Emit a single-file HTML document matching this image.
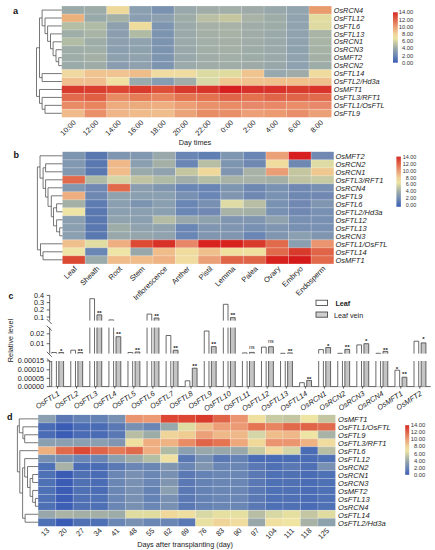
<!DOCTYPE html><html><head><meta charset="utf-8"><style>html,body{margin:0;padding:0;background:#fff;}svg{display:block;}</style></head><body>
<svg width="435" height="550" viewBox="0 0 435 550" font-family='"Liberation Sans", sans-serif'>
<rect width="435" height="550" fill="#fff"/>
<text x="13.1" y="13.8" font-size="9.2" font-weight="bold" fill="#111">a</text>
<rect x="61.80" y="6.10" width="22.52" height="7.99" fill="#9aaaa8"/>
<rect x="84.27" y="6.10" width="22.52" height="7.99" fill="#9caba8"/>
<rect x="106.74" y="6.10" width="22.52" height="7.99" fill="#eed89a"/>
<rect x="129.21" y="6.10" width="22.52" height="7.99" fill="#8a9fb0"/>
<rect x="151.68" y="6.10" width="22.52" height="7.99" fill="#7a92b0"/>
<rect x="174.15" y="6.10" width="22.52" height="7.99" fill="#98a8ab"/>
<rect x="196.62" y="6.10" width="22.52" height="7.99" fill="#a0aca8"/>
<rect x="219.09" y="6.10" width="22.52" height="7.99" fill="#a2aea8"/>
<rect x="241.56" y="6.10" width="22.52" height="7.99" fill="#9eaaa8"/>
<rect x="264.03" y="6.10" width="22.52" height="7.99" fill="#98a8aa"/>
<rect x="286.50" y="6.10" width="22.52" height="7.99" fill="#92a4ae"/>
<rect x="308.97" y="6.10" width="22.52" height="7.99" fill="#e89c6e"/>
<rect x="61.80" y="14.04" width="22.52" height="7.99" fill="#ebb07c"/>
<rect x="84.27" y="14.04" width="22.52" height="7.99" fill="#98a9aa"/>
<rect x="106.74" y="14.04" width="22.52" height="7.99" fill="#a4b0a6"/>
<rect x="129.21" y="14.04" width="22.52" height="7.99" fill="#899eb0"/>
<rect x="151.68" y="14.04" width="22.52" height="7.99" fill="#8ca0b0"/>
<rect x="174.15" y="14.04" width="22.52" height="7.99" fill="#9eaca8"/>
<rect x="196.62" y="14.04" width="22.52" height="7.99" fill="#b8bfa4"/>
<rect x="219.09" y="14.04" width="22.52" height="7.99" fill="#c4c6a0"/>
<rect x="241.56" y="14.04" width="22.52" height="7.99" fill="#a8b2a6"/>
<rect x="264.03" y="14.04" width="22.52" height="7.99" fill="#9eaca8"/>
<rect x="286.50" y="14.04" width="22.52" height="7.99" fill="#90a3ae"/>
<rect x="308.97" y="14.04" width="22.52" height="7.99" fill="#e2dca0"/>
<rect x="61.80" y="21.98" width="22.52" height="7.99" fill="#b4bea4"/>
<rect x="84.27" y="21.98" width="22.52" height="7.99" fill="#b0bba5"/>
<rect x="106.74" y="21.98" width="22.52" height="7.99" fill="#8ca0ae"/>
<rect x="129.21" y="21.98" width="22.52" height="7.99" fill="#eedc9c"/>
<rect x="151.68" y="21.98" width="22.52" height="7.99" fill="#7d95b0"/>
<rect x="174.15" y="21.98" width="22.52" height="7.99" fill="#9aaaaa"/>
<rect x="196.62" y="21.98" width="22.52" height="7.99" fill="#a6b0a6"/>
<rect x="219.09" y="21.98" width="22.52" height="7.99" fill="#a8b2a6"/>
<rect x="241.56" y="21.98" width="22.52" height="7.99" fill="#a0aca8"/>
<rect x="264.03" y="21.98" width="22.52" height="7.99" fill="#9eaca8"/>
<rect x="286.50" y="21.98" width="22.52" height="7.99" fill="#90a3ae"/>
<rect x="308.97" y="21.98" width="22.52" height="7.99" fill="#dedaa2"/>
<rect x="61.80" y="29.92" width="22.52" height="7.99" fill="#a0aea8"/>
<rect x="84.27" y="29.92" width="22.52" height="7.99" fill="#a8b4a6"/>
<rect x="106.74" y="29.92" width="22.52" height="7.99" fill="#8a9eb0"/>
<rect x="129.21" y="29.92" width="22.52" height="7.99" fill="#b0bba4"/>
<rect x="151.68" y="29.92" width="22.52" height="7.99" fill="#7c94b0"/>
<rect x="174.15" y="29.92" width="22.52" height="7.99" fill="#9aa9aa"/>
<rect x="196.62" y="29.92" width="22.52" height="7.99" fill="#a4b0a6"/>
<rect x="219.09" y="29.92" width="22.52" height="7.99" fill="#a8b2a6"/>
<rect x="241.56" y="29.92" width="22.52" height="7.99" fill="#a0aca8"/>
<rect x="264.03" y="29.92" width="22.52" height="7.99" fill="#9aaaaa"/>
<rect x="286.50" y="29.92" width="22.52" height="7.99" fill="#8fa2ae"/>
<rect x="308.97" y="29.92" width="22.52" height="7.99" fill="#a8b4a6"/>
<rect x="61.80" y="37.86" width="22.52" height="7.99" fill="#b0bca4"/>
<rect x="84.27" y="37.86" width="22.52" height="7.99" fill="#9eada8"/>
<rect x="106.74" y="37.86" width="22.52" height="7.99" fill="#8ca0ae"/>
<rect x="129.21" y="37.86" width="22.52" height="7.99" fill="#8fa2ae"/>
<rect x="151.68" y="37.86" width="22.52" height="7.99" fill="#7c94b0"/>
<rect x="174.15" y="37.86" width="22.52" height="7.99" fill="#9aa9aa"/>
<rect x="196.62" y="37.86" width="22.52" height="7.99" fill="#a2aea8"/>
<rect x="219.09" y="37.86" width="22.52" height="7.99" fill="#a4b0a6"/>
<rect x="241.56" y="37.86" width="22.52" height="7.99" fill="#a0aca8"/>
<rect x="264.03" y="37.86" width="22.52" height="7.99" fill="#9aaaaa"/>
<rect x="286.50" y="37.86" width="22.52" height="7.99" fill="#8fa2ae"/>
<rect x="308.97" y="37.86" width="22.52" height="7.99" fill="#a8b4a6"/>
<rect x="61.80" y="45.80" width="22.52" height="7.99" fill="#9eada8"/>
<rect x="84.27" y="45.80" width="22.52" height="7.99" fill="#a0aea8"/>
<rect x="106.74" y="45.80" width="22.52" height="7.99" fill="#8a9fb0"/>
<rect x="129.21" y="45.80" width="22.52" height="7.99" fill="#8ea2ae"/>
<rect x="151.68" y="45.80" width="22.52" height="7.99" fill="#7c94b0"/>
<rect x="174.15" y="45.80" width="22.52" height="7.99" fill="#98a8aa"/>
<rect x="196.62" y="45.80" width="22.52" height="7.99" fill="#a2aea8"/>
<rect x="219.09" y="45.80" width="22.52" height="7.99" fill="#a4b0a6"/>
<rect x="241.56" y="45.80" width="22.52" height="7.99" fill="#9eaca8"/>
<rect x="264.03" y="45.80" width="22.52" height="7.99" fill="#9aaaaa"/>
<rect x="286.50" y="45.80" width="22.52" height="7.99" fill="#8ea2ae"/>
<rect x="308.97" y="45.80" width="22.52" height="7.99" fill="#a6b2a6"/>
<rect x="61.80" y="53.74" width="22.52" height="7.99" fill="#9eada8"/>
<rect x="84.27" y="53.74" width="22.52" height="7.99" fill="#a4b0a6"/>
<rect x="106.74" y="53.74" width="22.52" height="7.99" fill="#8ca0ae"/>
<rect x="129.21" y="53.74" width="22.52" height="7.99" fill="#90a2ae"/>
<rect x="151.68" y="53.74" width="22.52" height="7.99" fill="#7e95b0"/>
<rect x="174.15" y="53.74" width="22.52" height="7.99" fill="#98a8aa"/>
<rect x="196.62" y="53.74" width="22.52" height="7.99" fill="#a0aca8"/>
<rect x="219.09" y="53.74" width="22.52" height="7.99" fill="#a2aea8"/>
<rect x="241.56" y="53.74" width="22.52" height="7.99" fill="#9eaca8"/>
<rect x="264.03" y="53.74" width="22.52" height="7.99" fill="#9aaaaa"/>
<rect x="286.50" y="53.74" width="22.52" height="7.99" fill="#8fa2ae"/>
<rect x="308.97" y="53.74" width="22.52" height="7.99" fill="#a4b0a6"/>
<rect x="61.80" y="61.68" width="22.52" height="7.99" fill="#9aaaa8"/>
<rect x="84.27" y="61.68" width="22.52" height="7.99" fill="#9eaca8"/>
<rect x="106.74" y="61.68" width="22.52" height="7.99" fill="#8a9db0"/>
<rect x="129.21" y="61.68" width="22.52" height="7.99" fill="#8fa1ae"/>
<rect x="151.68" y="61.68" width="22.52" height="7.99" fill="#7d94b0"/>
<rect x="174.15" y="61.68" width="22.52" height="7.99" fill="#9aa9aa"/>
<rect x="196.62" y="61.68" width="22.52" height="7.99" fill="#a0aca8"/>
<rect x="219.09" y="61.68" width="22.52" height="7.99" fill="#a0aca8"/>
<rect x="241.56" y="61.68" width="22.52" height="7.99" fill="#9eaaa8"/>
<rect x="264.03" y="61.68" width="22.52" height="7.99" fill="#98a8aa"/>
<rect x="286.50" y="61.68" width="22.52" height="7.99" fill="#8ea1b0"/>
<rect x="308.97" y="61.68" width="22.52" height="7.99" fill="#9eaca8"/>
<rect x="61.80" y="69.62" width="22.52" height="7.99" fill="#f0d9a0"/>
<rect x="84.27" y="69.62" width="22.52" height="7.99" fill="#efc490"/>
<rect x="106.74" y="69.62" width="22.52" height="7.99" fill="#efc490"/>
<rect x="129.21" y="69.62" width="22.52" height="7.99" fill="#efbd8a"/>
<rect x="151.68" y="69.62" width="22.52" height="7.99" fill="#f0dca0"/>
<rect x="174.15" y="69.62" width="22.52" height="7.99" fill="#f0dca0"/>
<rect x="196.62" y="69.62" width="22.52" height="7.99" fill="#dcdba4"/>
<rect x="219.09" y="69.62" width="22.52" height="7.99" fill="#e0dca0"/>
<rect x="241.56" y="69.62" width="22.52" height="7.99" fill="#efc48e"/>
<rect x="264.03" y="69.62" width="22.52" height="7.99" fill="#97a9ae"/>
<rect x="286.50" y="69.62" width="22.52" height="7.99" fill="#9eaba8"/>
<rect x="308.97" y="69.62" width="22.52" height="7.99" fill="#efdb9e"/>
<rect x="61.80" y="77.56" width="22.52" height="7.99" fill="#efc08e"/>
<rect x="84.27" y="77.56" width="22.52" height="7.99" fill="#efbe8c"/>
<rect x="106.74" y="77.56" width="22.52" height="7.99" fill="#f0e0a2"/>
<rect x="129.21" y="77.56" width="22.52" height="7.99" fill="#98aaad"/>
<rect x="151.68" y="77.56" width="22.52" height="7.99" fill="#859cb2"/>
<rect x="174.15" y="77.56" width="22.52" height="7.99" fill="#a0aca8"/>
<rect x="196.62" y="77.56" width="22.52" height="7.99" fill="#d8d9a6"/>
<rect x="219.09" y="77.56" width="22.52" height="7.99" fill="#efc890"/>
<rect x="241.56" y="77.56" width="22.52" height="7.99" fill="#efc28e"/>
<rect x="264.03" y="77.56" width="22.52" height="7.99" fill="#efc08c"/>
<rect x="286.50" y="77.56" width="22.52" height="7.99" fill="#efbf8c"/>
<rect x="308.97" y="77.56" width="22.52" height="7.99" fill="#efc08c"/>
<rect x="61.80" y="85.50" width="22.52" height="7.99" fill="#d83a2c"/>
<rect x="84.27" y="85.50" width="22.52" height="7.99" fill="#da3e2e"/>
<rect x="106.74" y="85.50" width="22.52" height="7.99" fill="#dc4632"/>
<rect x="129.21" y="85.50" width="22.52" height="7.99" fill="#d93a2c"/>
<rect x="151.68" y="85.50" width="22.52" height="7.99" fill="#de4f37"/>
<rect x="174.15" y="85.50" width="22.52" height="7.99" fill="#d73a2c"/>
<rect x="196.62" y="85.50" width="22.52" height="7.99" fill="#d8362a"/>
<rect x="219.09" y="85.50" width="22.52" height="7.99" fill="#d61f1e"/>
<rect x="241.56" y="85.50" width="22.52" height="7.99" fill="#d8302a"/>
<rect x="264.03" y="85.50" width="22.52" height="7.99" fill="#d8322a"/>
<rect x="286.50" y="85.50" width="22.52" height="7.99" fill="#d83a2c"/>
<rect x="308.97" y="85.50" width="22.52" height="7.99" fill="#d8342a"/>
<rect x="61.80" y="93.44" width="22.52" height="7.99" fill="#e2694c"/>
<rect x="84.27" y="93.44" width="22.52" height="7.99" fill="#e05e42"/>
<rect x="106.74" y="93.44" width="22.52" height="7.99" fill="#e88a62"/>
<rect x="129.21" y="93.44" width="22.52" height="7.99" fill="#e67c56"/>
<rect x="151.68" y="93.44" width="22.52" height="7.99" fill="#e8845e"/>
<rect x="174.15" y="93.44" width="22.52" height="7.99" fill="#e4734f"/>
<rect x="196.62" y="93.44" width="22.52" height="7.99" fill="#e4714e"/>
<rect x="219.09" y="93.44" width="22.52" height="7.99" fill="#e06448"/>
<rect x="241.56" y="93.44" width="22.52" height="7.99" fill="#e4704e"/>
<rect x="264.03" y="93.44" width="22.52" height="7.99" fill="#e06448"/>
<rect x="286.50" y="93.44" width="22.52" height="7.99" fill="#e06448"/>
<rect x="308.97" y="93.44" width="22.52" height="7.99" fill="#e26a4c"/>
<rect x="61.80" y="101.38" width="22.52" height="7.99" fill="#e98c66"/>
<rect x="84.27" y="101.38" width="22.52" height="7.99" fill="#e8855f"/>
<rect x="106.74" y="101.38" width="22.52" height="7.99" fill="#eeab7e"/>
<rect x="129.21" y="101.38" width="22.52" height="7.99" fill="#ebab7c"/>
<rect x="151.68" y="101.38" width="22.52" height="7.99" fill="#eeae80"/>
<rect x="174.15" y="101.38" width="22.52" height="7.99" fill="#ec9e74"/>
<rect x="196.62" y="101.38" width="22.52" height="7.99" fill="#e9916a"/>
<rect x="219.09" y="101.38" width="22.52" height="7.99" fill="#e88c66"/>
<rect x="241.56" y="101.38" width="22.52" height="7.99" fill="#e8886a"/>
<rect x="264.03" y="101.38" width="22.52" height="7.99" fill="#e88866"/>
<rect x="286.50" y="101.38" width="22.52" height="7.99" fill="#e98e68"/>
<rect x="308.97" y="101.38" width="22.52" height="7.99" fill="#e8886a"/>
<rect x="61.80" y="109.32" width="22.52" height="7.99" fill="#efbb8a"/>
<rect x="84.27" y="109.32" width="22.52" height="7.99" fill="#e9906a"/>
<rect x="106.74" y="109.32" width="22.52" height="7.99" fill="#efb488"/>
<rect x="129.21" y="109.32" width="22.52" height="7.99" fill="#efbb8a"/>
<rect x="151.68" y="109.32" width="22.52" height="7.99" fill="#efbd8c"/>
<rect x="174.15" y="109.32" width="22.52" height="7.99" fill="#eba47a"/>
<rect x="196.62" y="109.32" width="22.52" height="7.99" fill="#e88c66"/>
<rect x="219.09" y="109.32" width="22.52" height="7.99" fill="#e88e68"/>
<rect x="241.56" y="109.32" width="22.52" height="7.99" fill="#eda078"/>
<rect x="264.03" y="109.32" width="22.52" height="7.99" fill="#ec9a72"/>
<rect x="286.50" y="109.32" width="22.52" height="7.99" fill="#e98e6a"/>
<rect x="308.97" y="109.32" width="22.52" height="7.99" fill="#eca078"/>
<line x1="84.27" y1="6.10" x2="84.27" y2="117.26" stroke="#ffffff" stroke-opacity="0.42" stroke-width="0.6"/>
<line x1="106.74" y1="6.10" x2="106.74" y2="117.26" stroke="#ffffff" stroke-opacity="0.42" stroke-width="0.6"/>
<line x1="129.21" y1="6.10" x2="129.21" y2="117.26" stroke="#ffffff" stroke-opacity="0.42" stroke-width="0.6"/>
<line x1="151.68" y1="6.10" x2="151.68" y2="117.26" stroke="#ffffff" stroke-opacity="0.42" stroke-width="0.6"/>
<line x1="174.15" y1="6.10" x2="174.15" y2="117.26" stroke="#ffffff" stroke-opacity="0.42" stroke-width="0.6"/>
<line x1="196.62" y1="6.10" x2="196.62" y2="117.26" stroke="#ffffff" stroke-opacity="0.42" stroke-width="0.6"/>
<line x1="219.09" y1="6.10" x2="219.09" y2="117.26" stroke="#ffffff" stroke-opacity="0.42" stroke-width="0.6"/>
<line x1="241.56" y1="6.10" x2="241.56" y2="117.26" stroke="#ffffff" stroke-opacity="0.42" stroke-width="0.6"/>
<line x1="264.03" y1="6.10" x2="264.03" y2="117.26" stroke="#ffffff" stroke-opacity="0.42" stroke-width="0.6"/>
<line x1="286.50" y1="6.10" x2="286.50" y2="117.26" stroke="#ffffff" stroke-opacity="0.42" stroke-width="0.6"/>
<line x1="308.97" y1="6.10" x2="308.97" y2="117.26" stroke="#ffffff" stroke-opacity="0.42" stroke-width="0.6"/>
<line x1="61.80" y1="14.04" x2="331.44" y2="14.04" stroke="#ffffff" stroke-opacity="0.42" stroke-width="0.6"/>
<line x1="61.80" y1="21.98" x2="331.44" y2="21.98" stroke="#ffffff" stroke-opacity="0.42" stroke-width="0.6"/>
<line x1="61.80" y1="29.92" x2="331.44" y2="29.92" stroke="#ffffff" stroke-opacity="0.42" stroke-width="0.6"/>
<line x1="61.80" y1="37.86" x2="331.44" y2="37.86" stroke="#ffffff" stroke-opacity="0.42" stroke-width="0.6"/>
<line x1="61.80" y1="45.80" x2="331.44" y2="45.80" stroke="#ffffff" stroke-opacity="0.42" stroke-width="0.6"/>
<line x1="61.80" y1="53.74" x2="331.44" y2="53.74" stroke="#ffffff" stroke-opacity="0.42" stroke-width="0.6"/>
<line x1="61.80" y1="61.68" x2="331.44" y2="61.68" stroke="#ffffff" stroke-opacity="0.42" stroke-width="0.6"/>
<line x1="61.80" y1="69.62" x2="331.44" y2="69.62" stroke="#ffffff" stroke-opacity="0.42" stroke-width="0.6"/>
<line x1="61.80" y1="77.56" x2="331.44" y2="77.56" stroke="#ffffff" stroke-opacity="0.42" stroke-width="0.6"/>
<line x1="61.80" y1="85.50" x2="331.44" y2="85.50" stroke="#ffffff" stroke-opacity="0.42" stroke-width="0.6"/>
<line x1="61.80" y1="93.44" x2="331.44" y2="93.44" stroke="#ffffff" stroke-opacity="0.42" stroke-width="0.6"/>
<line x1="61.80" y1="101.38" x2="331.44" y2="101.38" stroke="#ffffff" stroke-opacity="0.42" stroke-width="0.6"/>
<line x1="61.80" y1="109.32" x2="331.44" y2="109.32" stroke="#ffffff" stroke-opacity="0.42" stroke-width="0.6"/>
<path d="M58.70 57.71V65.65M58.70 57.71H61.80M58.70 65.65H61.80M56.00 49.77V61.68M56.00 49.77H61.80M56.00 61.68H58.70M53.10 41.83V55.73M53.10 41.83H61.80M53.10 55.73H56.00M50.50 33.89V48.78M50.50 33.89H61.80M50.50 48.78H53.10M47.60 25.95V41.33M47.60 25.95H61.80M47.60 41.33H50.50M45.00 18.01V33.64M45.00 18.01H61.80M45.00 33.64H47.60M42.10 10.07V25.83M42.10 10.07H61.80M42.10 25.83H45.00M42.10 73.59V81.53M42.10 73.59H61.80M42.10 81.53H61.80M39.50 17.95V77.56M39.50 17.95H42.10M39.50 77.56H42.10M45.00 105.35V113.29M45.00 105.35H61.80M45.00 113.29H61.80M42.10 97.41V109.32M42.10 97.41H61.80M42.10 109.32H45.00M39.50 89.47V103.36M39.50 89.47H61.80M39.50 103.36H42.10M36.50 47.75V96.42M36.50 47.75H39.50M36.50 96.42H39.50" fill="none" stroke="#555" stroke-width="0.8"/>
<text x="333.80" y="12.70" font-size="7.3" font-style="italic" fill="#1a1a1a">OsRCN4</text>
<text x="333.80" y="20.64" font-size="7.3" font-style="italic" fill="#1a1a1a">OsFTL12</text>
<text x="333.80" y="28.58" font-size="7.3" font-style="italic" fill="#1a1a1a">OsFTL6</text>
<text x="333.80" y="36.52" font-size="7.3" font-style="italic" fill="#1a1a1a">OsFTL13</text>
<text x="333.80" y="44.46" font-size="7.3" font-style="italic" fill="#1a1a1a">OsRCN1</text>
<text x="333.80" y="52.40" font-size="7.3" font-style="italic" fill="#1a1a1a">OsRCN3</text>
<text x="333.80" y="60.34" font-size="7.3" font-style="italic" fill="#1a1a1a">OsMFT2</text>
<text x="333.80" y="68.28" font-size="7.3" font-style="italic" fill="#1a1a1a">OsRCN2</text>
<text x="333.80" y="76.22" font-size="7.3" font-style="italic" fill="#1a1a1a">OsFTL14</text>
<text x="333.80" y="84.16" font-size="7.3" font-style="italic" fill="#1a1a1a">OsFTL2/Hd3a</text>
<text x="333.80" y="92.10" font-size="7.3" font-style="italic" fill="#1a1a1a">OsMFT1</text>
<text x="333.80" y="100.04" font-size="7.3" font-style="italic" fill="#1a1a1a">OsFTL3/RFT1</text>
<text x="333.80" y="107.98" font-size="7.3" font-style="italic" fill="#1a1a1a">OsFTL1/OsFTL</text>
<text x="333.80" y="115.92" font-size="7.3" font-style="italic" fill="#1a1a1a">OsFTL9</text>
<linearGradient id="ga" x1="0" y1="0" x2="0" y2="1"><stop offset="0" stop-color="#d42a24"/><stop offset="0.14" stop-color="#e06448"/><stop offset="0.29" stop-color="#eba078"/><stop offset="0.43" stop-color="#efd49a"/><stop offset="0.52" stop-color="#ebe3a2"/><stop offset="0.6" stop-color="#c8caa2"/><stop offset="0.72" stop-color="#98a8aa"/><stop offset="0.86" stop-color="#6a86b4"/><stop offset="1" stop-color="#3a5cb4"/></linearGradient>
<rect x="393" y="12.3" width="4.8" height="50.4" fill="url(#ga)"/>
<text x="413.3" y="14.30" font-size="5.8" text-anchor="end" fill="#333">14.00</text>
<text x="413.3" y="21.50" font-size="5.8" text-anchor="end" fill="#333">12.00</text>
<text x="413.3" y="28.70" font-size="5.8" text-anchor="end" fill="#333">10.00</text>
<text x="413.3" y="35.90" font-size="5.8" text-anchor="end" fill="#333">8.00</text>
<text x="413.3" y="43.10" font-size="5.8" text-anchor="end" fill="#333">6.00</text>
<text x="413.3" y="50.30" font-size="5.8" text-anchor="end" fill="#333">4.00</text>
<text x="413.3" y="57.50" font-size="5.8" text-anchor="end" fill="#333">2.00</text>
<text x="413.3" y="64.70" font-size="5.8" text-anchor="end" fill="#333">0.00</text>
<text x="76.44" y="123.20" font-size="7.4" text-anchor="end" transform="rotate(-45 76.44 123.20)" fill="#1a1a1a">10:00</text>
<text x="98.91" y="123.20" font-size="7.4" text-anchor="end" transform="rotate(-45 98.91 123.20)" fill="#1a1a1a">12:00</text>
<text x="121.38" y="123.20" font-size="7.4" text-anchor="end" transform="rotate(-45 121.38 123.20)" fill="#1a1a1a">14:00</text>
<text x="143.84" y="123.20" font-size="7.4" text-anchor="end" transform="rotate(-45 143.84 123.20)" fill="#1a1a1a">16:00</text>
<text x="166.31" y="123.20" font-size="7.4" text-anchor="end" transform="rotate(-45 166.31 123.20)" fill="#1a1a1a">18:00</text>
<text x="188.78" y="123.20" font-size="7.4" text-anchor="end" transform="rotate(-45 188.78 123.20)" fill="#1a1a1a">20:00</text>
<text x="211.26" y="123.20" font-size="7.4" text-anchor="end" transform="rotate(-45 211.26 123.20)" fill="#1a1a1a">22:00</text>
<text x="233.72" y="123.20" font-size="7.4" text-anchor="end" transform="rotate(-45 233.72 123.20)" fill="#1a1a1a">0:00</text>
<text x="256.19" y="123.20" font-size="7.4" text-anchor="end" transform="rotate(-45 256.19 123.20)" fill="#1a1a1a">2:00</text>
<text x="278.66" y="123.20" font-size="7.4" text-anchor="end" transform="rotate(-45 278.66 123.20)" fill="#1a1a1a">4:00</text>
<text x="301.13" y="123.20" font-size="7.4" text-anchor="end" transform="rotate(-45 301.13 123.20)" fill="#1a1a1a">6:00</text>
<text x="323.60" y="123.20" font-size="7.4" text-anchor="end" transform="rotate(-45 323.60 123.20)" fill="#1a1a1a">8:00</text>
<text x="195" y="145.3" font-size="7.3" text-anchor="middle" fill="#1a1a1a">Day times</text>
<text x="13.4" y="157.8" font-size="9" font-weight="bold" fill="#111">b</text>
<rect x="62.50" y="151.80" width="22.65" height="8.05" fill="#7e95b0"/>
<rect x="85.10" y="151.80" width="22.65" height="8.05" fill="#5a78b0"/>
<rect x="107.70" y="151.80" width="22.65" height="8.05" fill="#8096b0"/>
<rect x="130.30" y="151.80" width="22.65" height="8.05" fill="#8298b0"/>
<rect x="152.90" y="151.80" width="22.65" height="8.05" fill="#98a8ab"/>
<rect x="175.50" y="151.80" width="22.65" height="8.05" fill="#6a86b4"/>
<rect x="198.10" y="151.80" width="22.65" height="8.05" fill="#6080b4"/>
<rect x="220.70" y="151.80" width="22.65" height="8.05" fill="#7f96b0"/>
<rect x="243.30" y="151.80" width="22.65" height="8.05" fill="#6a86b4"/>
<rect x="265.90" y="151.80" width="22.65" height="8.05" fill="#eba078"/>
<rect x="288.50" y="151.80" width="22.65" height="8.05" fill="#d61f1e"/>
<rect x="311.10" y="151.80" width="22.65" height="8.05" fill="#7088b2"/>
<rect x="62.50" y="159.80" width="22.65" height="8.05" fill="#8298b0"/>
<rect x="85.10" y="159.80" width="22.65" height="8.05" fill="#5a78b0"/>
<rect x="107.70" y="159.80" width="22.65" height="8.05" fill="#efb888"/>
<rect x="130.30" y="159.80" width="22.65" height="8.05" fill="#8a9fb0"/>
<rect x="152.90" y="159.80" width="22.65" height="8.05" fill="#a4b0a6"/>
<rect x="175.50" y="159.80" width="22.65" height="8.05" fill="#6a86b4"/>
<rect x="198.10" y="159.80" width="22.65" height="8.05" fill="#b8bea4"/>
<rect x="220.70" y="159.80" width="22.65" height="8.05" fill="#7e95b0"/>
<rect x="243.30" y="159.80" width="22.65" height="8.05" fill="#6e88b2"/>
<rect x="265.90" y="159.80" width="22.65" height="8.05" fill="#f0dc9e"/>
<rect x="288.50" y="159.80" width="22.65" height="8.05" fill="#6e88b2"/>
<rect x="311.10" y="159.80" width="22.65" height="8.05" fill="#dedca4"/>
<rect x="62.50" y="167.80" width="22.65" height="8.05" fill="#8298b0"/>
<rect x="85.10" y="167.80" width="22.65" height="8.05" fill="#5a78b0"/>
<rect x="107.70" y="167.80" width="22.65" height="8.05" fill="#efbc8a"/>
<rect x="130.30" y="167.80" width="22.65" height="8.05" fill="#9aaaaa"/>
<rect x="152.90" y="167.80" width="22.65" height="8.05" fill="#8fa2ae"/>
<rect x="175.50" y="167.80" width="22.65" height="8.05" fill="#c4c6a0"/>
<rect x="198.10" y="167.80" width="22.65" height="8.05" fill="#efd89a"/>
<rect x="220.70" y="167.80" width="22.65" height="8.05" fill="#8096b0"/>
<rect x="243.30" y="167.80" width="22.65" height="8.05" fill="#a8b2a6"/>
<rect x="265.90" y="167.80" width="22.65" height="8.05" fill="#eb9e76"/>
<rect x="288.50" y="167.80" width="22.65" height="8.05" fill="#c4c6a0"/>
<rect x="311.10" y="167.80" width="22.65" height="8.05" fill="#efc890"/>
<rect x="62.50" y="175.80" width="22.65" height="8.05" fill="#e26a4c"/>
<rect x="85.10" y="175.80" width="22.65" height="8.05" fill="#b0bba5"/>
<rect x="107.70" y="175.80" width="22.65" height="8.05" fill="#d4d6a8"/>
<rect x="130.30" y="175.80" width="22.65" height="8.05" fill="#c0c4a2"/>
<rect x="152.90" y="175.80" width="22.65" height="8.05" fill="#b0bba5"/>
<rect x="175.50" y="175.80" width="22.65" height="8.05" fill="#a0ada8"/>
<rect x="198.10" y="175.80" width="22.65" height="8.05" fill="#b4bea5"/>
<rect x="220.70" y="175.80" width="22.65" height="8.05" fill="#a8b2a6"/>
<rect x="243.30" y="175.80" width="22.65" height="8.05" fill="#a8b2a6"/>
<rect x="265.90" y="175.80" width="22.65" height="8.05" fill="#a4b0a6"/>
<rect x="288.50" y="175.80" width="22.65" height="8.05" fill="#c0c4a2"/>
<rect x="311.10" y="175.80" width="22.65" height="8.05" fill="#c8caa2"/>
<rect x="62.50" y="183.80" width="22.65" height="8.05" fill="#8298b0"/>
<rect x="85.10" y="183.80" width="22.65" height="8.05" fill="#7088b2"/>
<rect x="107.70" y="183.80" width="22.65" height="8.05" fill="#e26a4c"/>
<rect x="130.30" y="183.80" width="22.65" height="8.05" fill="#8a9eb0"/>
<rect x="152.90" y="183.80" width="22.65" height="8.05" fill="#8096b0"/>
<rect x="175.50" y="183.80" width="22.65" height="8.05" fill="#6a86b4"/>
<rect x="198.10" y="183.80" width="22.65" height="8.05" fill="#6885b4"/>
<rect x="220.70" y="183.80" width="22.65" height="8.05" fill="#7e95b0"/>
<rect x="243.30" y="183.80" width="22.65" height="8.05" fill="#6e88b2"/>
<rect x="265.90" y="183.80" width="22.65" height="8.05" fill="#7a92b2"/>
<rect x="288.50" y="183.80" width="22.65" height="8.05" fill="#7088b2"/>
<rect x="311.10" y="183.80" width="22.65" height="8.05" fill="#7890b2"/>
<rect x="62.50" y="191.80" width="22.65" height="8.05" fill="#efae80"/>
<rect x="85.10" y="191.80" width="22.65" height="8.05" fill="#6e88b2"/>
<rect x="107.70" y="191.80" width="22.65" height="8.05" fill="#8fa2ae"/>
<rect x="130.30" y="191.80" width="22.65" height="8.05" fill="#8a9fb0"/>
<rect x="152.90" y="191.80" width="22.65" height="8.05" fill="#8a9fb0"/>
<rect x="175.50" y="191.80" width="22.65" height="8.05" fill="#7890b2"/>
<rect x="198.10" y="191.80" width="22.65" height="8.05" fill="#6a86b4"/>
<rect x="220.70" y="191.80" width="22.65" height="8.05" fill="#8096b0"/>
<rect x="243.30" y="191.80" width="22.65" height="8.05" fill="#6e88b2"/>
<rect x="265.90" y="191.80" width="22.65" height="8.05" fill="#7a92b2"/>
<rect x="288.50" y="191.80" width="22.65" height="8.05" fill="#6e88b2"/>
<rect x="311.10" y="191.80" width="22.65" height="8.05" fill="#7088b2"/>
<rect x="62.50" y="199.80" width="22.65" height="8.05" fill="#a4b0a6"/>
<rect x="85.10" y="199.80" width="22.65" height="8.05" fill="#5e7cb2"/>
<rect x="107.70" y="199.80" width="22.65" height="8.05" fill="#8a9fb0"/>
<rect x="130.30" y="199.80" width="22.65" height="8.05" fill="#7d94b0"/>
<rect x="152.90" y="199.80" width="22.65" height="8.05" fill="#8a9fb0"/>
<rect x="175.50" y="199.80" width="22.65" height="8.05" fill="#6a86b4"/>
<rect x="198.10" y="199.80" width="22.65" height="8.05" fill="#7890b2"/>
<rect x="220.70" y="199.80" width="22.65" height="8.05" fill="#dedca4"/>
<rect x="243.30" y="199.80" width="22.65" height="8.05" fill="#b8bea4"/>
<rect x="265.90" y="199.80" width="22.65" height="8.05" fill="#7a92b2"/>
<rect x="288.50" y="199.80" width="22.65" height="8.05" fill="#7088b2"/>
<rect x="311.10" y="199.80" width="22.65" height="8.05" fill="#8096b0"/>
<rect x="62.50" y="207.80" width="22.65" height="8.05" fill="#eee4a6"/>
<rect x="85.10" y="207.80" width="22.65" height="8.05" fill="#5a78b0"/>
<rect x="107.70" y="207.80" width="22.65" height="8.05" fill="#8a9fb0"/>
<rect x="130.30" y="207.80" width="22.65" height="8.05" fill="#8a9fb0"/>
<rect x="152.90" y="207.80" width="22.65" height="8.05" fill="#8a9fb0"/>
<rect x="175.50" y="207.80" width="22.65" height="8.05" fill="#6a86b4"/>
<rect x="198.10" y="207.80" width="22.65" height="8.05" fill="#7088b2"/>
<rect x="220.70" y="207.80" width="22.65" height="8.05" fill="#a8b2a6"/>
<rect x="243.30" y="207.80" width="22.65" height="8.05" fill="#a4b0a6"/>
<rect x="265.90" y="207.80" width="22.65" height="8.05" fill="#7890b2"/>
<rect x="288.50" y="207.80" width="22.65" height="8.05" fill="#7088b2"/>
<rect x="311.10" y="207.80" width="22.65" height="8.05" fill="#7890b2"/>
<rect x="62.50" y="215.80" width="22.65" height="8.05" fill="#8a9fb0"/>
<rect x="85.10" y="215.80" width="22.65" height="8.05" fill="#5a78b0"/>
<rect x="107.70" y="215.80" width="22.65" height="8.05" fill="#8fa2ae"/>
<rect x="130.30" y="215.80" width="22.65" height="8.05" fill="#8a9fb0"/>
<rect x="152.90" y="215.80" width="22.65" height="8.05" fill="#b4bca4"/>
<rect x="175.50" y="215.80" width="22.65" height="8.05" fill="#98a8aa"/>
<rect x="198.10" y="215.80" width="22.65" height="8.05" fill="#8ea2ae"/>
<rect x="220.70" y="215.80" width="22.65" height="8.05" fill="#8096b0"/>
<rect x="243.30" y="215.80" width="22.65" height="8.05" fill="#8096b0"/>
<rect x="265.90" y="215.80" width="22.65" height="8.05" fill="#8fa2ae"/>
<rect x="288.50" y="215.80" width="22.65" height="8.05" fill="#7890b2"/>
<rect x="311.10" y="215.80" width="22.65" height="8.05" fill="#7890b2"/>
<rect x="62.50" y="223.80" width="22.65" height="8.05" fill="#8a9fb0"/>
<rect x="85.10" y="223.80" width="22.65" height="8.05" fill="#5a78b0"/>
<rect x="107.70" y="223.80" width="22.65" height="8.05" fill="#9eaca8"/>
<rect x="130.30" y="223.80" width="22.65" height="8.05" fill="#8fa2ae"/>
<rect x="152.90" y="223.80" width="22.65" height="8.05" fill="#8fa2ae"/>
<rect x="175.50" y="223.80" width="22.65" height="8.05" fill="#6a86b4"/>
<rect x="198.10" y="223.80" width="22.65" height="8.05" fill="#8096b0"/>
<rect x="220.70" y="223.80" width="22.65" height="8.05" fill="#8096b0"/>
<rect x="243.30" y="223.80" width="22.65" height="8.05" fill="#7890b2"/>
<rect x="265.90" y="223.80" width="22.65" height="8.05" fill="#8096b0"/>
<rect x="288.50" y="223.80" width="22.65" height="8.05" fill="#7890b2"/>
<rect x="311.10" y="223.80" width="22.65" height="8.05" fill="#7890b2"/>
<rect x="62.50" y="231.80" width="22.65" height="8.05" fill="#8a9fb0"/>
<rect x="85.10" y="231.80" width="22.65" height="8.05" fill="#5a78b0"/>
<rect x="107.70" y="231.80" width="22.65" height="8.05" fill="#98a8aa"/>
<rect x="130.30" y="231.80" width="22.65" height="8.05" fill="#94a5ac"/>
<rect x="152.90" y="231.80" width="22.65" height="8.05" fill="#8fa2ae"/>
<rect x="175.50" y="231.80" width="22.65" height="8.05" fill="#6a86b4"/>
<rect x="198.10" y="231.80" width="22.65" height="8.05" fill="#8096b0"/>
<rect x="220.70" y="231.80" width="22.65" height="8.05" fill="#8096b0"/>
<rect x="243.30" y="231.80" width="22.65" height="8.05" fill="#6a86b4"/>
<rect x="265.90" y="231.80" width="22.65" height="8.05" fill="#8096b0"/>
<rect x="288.50" y="231.80" width="22.65" height="8.05" fill="#8a9fb0"/>
<rect x="311.10" y="231.80" width="22.65" height="8.05" fill="#8096b0"/>
<rect x="62.50" y="239.80" width="22.65" height="8.05" fill="#efc08c"/>
<rect x="85.10" y="239.80" width="22.65" height="8.05" fill="#e0dca2"/>
<rect x="107.70" y="239.80" width="22.65" height="8.05" fill="#efae80"/>
<rect x="130.30" y="239.80" width="22.65" height="8.05" fill="#dc4a34"/>
<rect x="152.90" y="239.80" width="22.65" height="8.05" fill="#d83228"/>
<rect x="175.50" y="239.80" width="22.65" height="8.05" fill="#e8866a"/>
<rect x="198.10" y="239.80" width="22.65" height="8.05" fill="#d8221e"/>
<rect x="220.70" y="239.80" width="22.65" height="8.05" fill="#d8221e"/>
<rect x="243.30" y="239.80" width="22.65" height="8.05" fill="#d83a2c"/>
<rect x="265.90" y="239.80" width="22.65" height="8.05" fill="#e26a4c"/>
<rect x="288.50" y="239.80" width="22.65" height="8.05" fill="#8a9fb0"/>
<rect x="311.10" y="239.80" width="22.65" height="8.05" fill="#eb9470"/>
<rect x="62.50" y="247.80" width="22.65" height="8.05" fill="#eee4a6"/>
<rect x="85.10" y="247.80" width="22.65" height="8.05" fill="#6a86b4"/>
<rect x="107.70" y="247.80" width="22.65" height="8.05" fill="#eee4a6"/>
<rect x="130.30" y="247.80" width="22.65" height="8.05" fill="#98a8aa"/>
<rect x="152.90" y="247.80" width="22.65" height="8.05" fill="#efbc8a"/>
<rect x="175.50" y="247.80" width="22.65" height="8.05" fill="#f0dc9e"/>
<rect x="198.10" y="247.80" width="22.65" height="8.05" fill="#efc08c"/>
<rect x="220.70" y="247.80" width="22.65" height="8.05" fill="#f0e0a0"/>
<rect x="243.30" y="247.80" width="22.65" height="8.05" fill="#f0e0a0"/>
<rect x="265.90" y="247.80" width="22.65" height="8.05" fill="#e26a4c"/>
<rect x="288.50" y="247.80" width="22.65" height="8.05" fill="#d83a2c"/>
<rect x="311.10" y="247.80" width="22.65" height="8.05" fill="#e06448"/>
<rect x="62.50" y="255.80" width="22.65" height="8.05" fill="#dc4a34"/>
<rect x="85.10" y="255.80" width="22.65" height="8.05" fill="#9aaaaa"/>
<rect x="107.70" y="255.80" width="22.65" height="8.05" fill="#efbc8a"/>
<rect x="130.30" y="255.80" width="22.65" height="8.05" fill="#efbc8a"/>
<rect x="152.90" y="255.80" width="22.65" height="8.05" fill="#efb284"/>
<rect x="175.50" y="255.80" width="22.65" height="8.05" fill="#f0dca0"/>
<rect x="198.10" y="255.80" width="22.65" height="8.05" fill="#eba078"/>
<rect x="220.70" y="255.80" width="22.65" height="8.05" fill="#e06448"/>
<rect x="243.30" y="255.80" width="22.65" height="8.05" fill="#e06448"/>
<rect x="265.90" y="255.80" width="22.65" height="8.05" fill="#d8221e"/>
<rect x="288.50" y="255.80" width="22.65" height="8.05" fill="#d51a1a"/>
<rect x="311.10" y="255.80" width="22.65" height="8.05" fill="#e26a4c"/>
<line x1="85.10" y1="151.80" x2="85.10" y2="263.80" stroke="#ffffff" stroke-opacity="0.42" stroke-width="0.6"/>
<line x1="107.70" y1="151.80" x2="107.70" y2="263.80" stroke="#ffffff" stroke-opacity="0.42" stroke-width="0.6"/>
<line x1="130.30" y1="151.80" x2="130.30" y2="263.80" stroke="#ffffff" stroke-opacity="0.42" stroke-width="0.6"/>
<line x1="152.90" y1="151.80" x2="152.90" y2="263.80" stroke="#ffffff" stroke-opacity="0.42" stroke-width="0.6"/>
<line x1="175.50" y1="151.80" x2="175.50" y2="263.80" stroke="#ffffff" stroke-opacity="0.42" stroke-width="0.6"/>
<line x1="198.10" y1="151.80" x2="198.10" y2="263.80" stroke="#ffffff" stroke-opacity="0.42" stroke-width="0.6"/>
<line x1="220.70" y1="151.80" x2="220.70" y2="263.80" stroke="#ffffff" stroke-opacity="0.42" stroke-width="0.6"/>
<line x1="243.30" y1="151.80" x2="243.30" y2="263.80" stroke="#ffffff" stroke-opacity="0.42" stroke-width="0.6"/>
<line x1="265.90" y1="151.80" x2="265.90" y2="263.80" stroke="#ffffff" stroke-opacity="0.42" stroke-width="0.6"/>
<line x1="288.50" y1="151.80" x2="288.50" y2="263.80" stroke="#ffffff" stroke-opacity="0.42" stroke-width="0.6"/>
<line x1="311.10" y1="151.80" x2="311.10" y2="263.80" stroke="#ffffff" stroke-opacity="0.42" stroke-width="0.6"/>
<line x1="62.50" y1="159.80" x2="333.70" y2="159.80" stroke="#ffffff" stroke-opacity="0.42" stroke-width="0.6"/>
<line x1="62.50" y1="167.80" x2="333.70" y2="167.80" stroke="#ffffff" stroke-opacity="0.42" stroke-width="0.6"/>
<line x1="62.50" y1="175.80" x2="333.70" y2="175.80" stroke="#ffffff" stroke-opacity="0.42" stroke-width="0.6"/>
<line x1="62.50" y1="183.80" x2="333.70" y2="183.80" stroke="#ffffff" stroke-opacity="0.42" stroke-width="0.6"/>
<line x1="62.50" y1="191.80" x2="333.70" y2="191.80" stroke="#ffffff" stroke-opacity="0.42" stroke-width="0.6"/>
<line x1="62.50" y1="199.80" x2="333.70" y2="199.80" stroke="#ffffff" stroke-opacity="0.42" stroke-width="0.6"/>
<line x1="62.50" y1="207.80" x2="333.70" y2="207.80" stroke="#ffffff" stroke-opacity="0.42" stroke-width="0.6"/>
<line x1="62.50" y1="215.80" x2="333.70" y2="215.80" stroke="#ffffff" stroke-opacity="0.42" stroke-width="0.6"/>
<line x1="62.50" y1="223.80" x2="333.70" y2="223.80" stroke="#ffffff" stroke-opacity="0.42" stroke-width="0.6"/>
<line x1="62.50" y1="231.80" x2="333.70" y2="231.80" stroke="#ffffff" stroke-opacity="0.42" stroke-width="0.6"/>
<line x1="62.50" y1="239.80" x2="333.70" y2="239.80" stroke="#ffffff" stroke-opacity="0.42" stroke-width="0.6"/>
<line x1="62.50" y1="247.80" x2="333.70" y2="247.80" stroke="#ffffff" stroke-opacity="0.42" stroke-width="0.6"/>
<line x1="62.50" y1="255.80" x2="333.70" y2="255.80" stroke="#ffffff" stroke-opacity="0.42" stroke-width="0.6"/>
<path d="M56.60 203.80V211.80M56.60 203.80H62.50M56.60 211.80H62.50M59.70 227.80V235.80M59.70 227.80H62.50M59.70 235.80H62.50M56.60 219.80V231.80M56.60 219.80H62.50M56.60 231.80H59.70M53.50 207.80V225.80M53.50 207.80H56.60M53.50 225.80H56.60M51.30 195.80V216.80M51.30 195.80H62.50M51.30 216.80H53.50M48.00 187.80V206.30M48.00 187.80H62.50M48.00 206.30H51.30M45.60 179.80V197.05M45.60 179.80H62.50M45.60 197.05H48.00M45.60 163.80V171.80M45.60 163.80H62.50M45.60 171.80H62.50M43.10 167.80V188.43M43.10 167.80H45.60M43.10 188.43H45.60M40.00 155.80V178.11M40.00 155.80H62.50M40.00 178.11H43.10M43.00 251.80V259.80M43.00 251.80H62.50M43.00 259.80H62.50M40.50 243.80V255.80M40.50 243.80H62.50M40.50 255.80H43.00M37.40 166.96V249.80M37.40 166.96H40.00M37.40 249.80H40.50" fill="none" stroke="#555" stroke-width="0.8"/>
<text x="335.40" y="158.50" font-size="7.5" font-style="italic" fill="#1a1a1a">OsMFT2</text>
<text x="335.40" y="166.50" font-size="7.5" font-style="italic" fill="#1a1a1a">OsRCN2</text>
<text x="335.40" y="174.50" font-size="7.5" font-style="italic" fill="#1a1a1a">OsRCN1</text>
<text x="335.40" y="182.50" font-size="7.5" font-style="italic" fill="#1a1a1a">OsFTL3/RFT1</text>
<text x="335.40" y="190.50" font-size="7.5" font-style="italic" fill="#1a1a1a">OsRCN4</text>
<text x="335.40" y="198.50" font-size="7.5" font-style="italic" fill="#1a1a1a">OsFTL9</text>
<text x="335.40" y="206.50" font-size="7.5" font-style="italic" fill="#1a1a1a">OsFTL6</text>
<text x="335.40" y="214.50" font-size="7.5" font-style="italic" fill="#1a1a1a">OsFTL2/Hd3a</text>
<text x="335.40" y="222.50" font-size="7.5" font-style="italic" fill="#1a1a1a">OsFTL12</text>
<text x="335.40" y="230.50" font-size="7.5" font-style="italic" fill="#1a1a1a">OsFTL13</text>
<text x="335.40" y="238.50" font-size="7.5" font-style="italic" fill="#1a1a1a">OsRCN3</text>
<text x="335.40" y="246.50" font-size="7.5" font-style="italic" fill="#1a1a1a">OsFTL1/OsFTL</text>
<text x="335.40" y="254.50" font-size="7.5" font-style="italic" fill="#1a1a1a">OsFTL14</text>
<text x="335.40" y="262.50" font-size="7.5" font-style="italic" fill="#1a1a1a">OsMFT1</text>
<linearGradient id="gb" x1="0" y1="0" x2="0" y2="1"><stop offset="0" stop-color="#d42a24"/><stop offset="0.14" stop-color="#e06448"/><stop offset="0.29" stop-color="#eba078"/><stop offset="0.43" stop-color="#efd49a"/><stop offset="0.52" stop-color="#ebe3a2"/><stop offset="0.6" stop-color="#c8caa2"/><stop offset="0.72" stop-color="#98a8aa"/><stop offset="0.86" stop-color="#6a86b4"/><stop offset="1" stop-color="#3a5cb4"/></linearGradient>
<rect x="396.4" y="156.6" width="4.5" height="50.2" fill="url(#gb)"/>
<text x="416.2" y="158.80" font-size="5.4" text-anchor="end" fill="#333">14.00</text>
<text x="416.2" y="165.71" font-size="5.4" text-anchor="end" fill="#333">12.00</text>
<text x="416.2" y="172.63" font-size="5.4" text-anchor="end" fill="#333">10.00</text>
<text x="416.2" y="179.54" font-size="5.4" text-anchor="end" fill="#333">8.00</text>
<text x="416.2" y="186.46" font-size="5.4" text-anchor="end" fill="#333">6.00</text>
<text x="416.2" y="193.37" font-size="5.4" text-anchor="end" fill="#333">4.00</text>
<text x="416.2" y="200.29" font-size="5.4" text-anchor="end" fill="#333">2.00</text>
<text x="416.2" y="207.20" font-size="5.4" text-anchor="end" fill="#333">0.00</text>
<text x="77.40" y="269.20" font-size="7.5" text-anchor="end" transform="rotate(-45 77.40 269.20)" fill="#1a1a1a">Leaf</text>
<text x="100.00" y="269.20" font-size="7.5" text-anchor="end" transform="rotate(-45 100.00 269.20)" fill="#1a1a1a">Sheath</text>
<text x="122.60" y="269.20" font-size="7.5" text-anchor="end" transform="rotate(-45 122.60 269.20)" fill="#1a1a1a">Root</text>
<text x="145.20" y="269.20" font-size="7.5" text-anchor="end" transform="rotate(-45 145.20 269.20)" fill="#1a1a1a">Stem</text>
<text x="167.80" y="269.20" font-size="7.5" text-anchor="end" transform="rotate(-45 167.80 269.20)" fill="#1a1a1a">Inflorescence</text>
<text x="190.40" y="269.20" font-size="7.5" text-anchor="end" transform="rotate(-45 190.40 269.20)" fill="#1a1a1a">Anther</text>
<text x="213.00" y="269.20" font-size="7.5" text-anchor="end" transform="rotate(-45 213.00 269.20)" fill="#1a1a1a">Pistil</text>
<text x="235.60" y="269.20" font-size="7.5" text-anchor="end" transform="rotate(-45 235.60 269.20)" fill="#1a1a1a">Lemma</text>
<text x="258.20" y="269.20" font-size="7.5" text-anchor="end" transform="rotate(-45 258.20 269.20)" fill="#1a1a1a">Palea</text>
<text x="280.80" y="269.20" font-size="7.5" text-anchor="end" transform="rotate(-45 280.80 269.20)" fill="#1a1a1a">Ovary</text>
<text x="303.40" y="269.20" font-size="7.5" text-anchor="end" transform="rotate(-45 303.40 269.20)" fill="#1a1a1a">Embryo</text>
<text x="326.00" y="269.20" font-size="7.5" text-anchor="end" transform="rotate(-45 326.00 269.20)" fill="#1a1a1a">Endosperm</text>
<text x="8.5" y="299" font-size="8.6" font-weight="bold" fill="#111">c</text>
<path d="M49.7 295.2V320.6 M49.7 327.6V353.6 M49.7 361V386.6" stroke="#3a3a3a" stroke-width="0.8" fill="none"/>
<text x="44.2" y="297.90" font-size="7.3" text-anchor="end" fill="#1a1a1a">0.4</text>
<text x="44.2" y="305.10" font-size="7.3" text-anchor="end" fill="#1a1a1a">0.3</text>
<text x="44.2" y="312.40" font-size="7.3" text-anchor="end" fill="#1a1a1a">0.2</text>
<text x="44.2" y="319.50" font-size="7.3" text-anchor="end" fill="#1a1a1a">0.1</text>
<text x="44.2" y="336.30" font-size="7.3" text-anchor="end" fill="#1a1a1a">0.02</text>
<text x="44.2" y="346.20" font-size="7.3" text-anchor="end" fill="#1a1a1a">0.01</text>
<text x="44.2" y="363.40" font-size="7.3" text-anchor="end" fill="#1a1a1a">0.00015</text>
<text x="44.2" y="372.30" font-size="7.3" text-anchor="end" fill="#1a1a1a">0.00010</text>
<text x="44.2" y="380.80" font-size="7.3" text-anchor="end" fill="#1a1a1a">0.00005</text>
<text x="44.2" y="389.10" font-size="7.3" text-anchor="end" fill="#1a1a1a">0.00000</text>
<path d="M46.7 295.4H49.7M46.7 302.6H49.7M46.7 309.9H49.7M46.7 317.0H49.7M46.7 333.8H49.7M46.7 343.7H49.7M46.7 360.9H49.7M46.7 369.8H49.7M46.7 378.3H49.7M46.7 386.6H49.7" stroke="#3a3a3a" stroke-width="0.8"/>
<path d="M46.8 319.1L51.8 324.1 M46.8 325.9L51.8 330.5 M46.8 351.8L51.8 356.8 M46.8 358.6L51.4 362.3" stroke="#3a3a3a" stroke-width="0.8"/>
<path d="M49.7 386.6H430.6" stroke="#3a3a3a" stroke-width="0.8"/>
<path d="M51.70 353.6V352.5H56.40V353.6" fill="#ffffff" stroke="#3a3a3a" stroke-width="0.75"/><rect x="51.70" y="361" width="4.70" height="25.600000000000023" fill="#ffffff"/><path d="M51.70 361V386.6M56.40 361V386.6" stroke="#3a3a3a" stroke-width="0.75"/>
<path d="M58.80 353.6V352.5H63.60V353.6" fill="#c4c4c4" stroke="#3a3a3a" stroke-width="0.75"/><rect x="58.80" y="361" width="4.80" height="25.600000000000023" fill="#c4c4c4"/><path d="M58.80 361V386.6M63.60 361V386.6" stroke="#3a3a3a" stroke-width="0.75"/>
<text x="61.20" y="353.20" font-size="6.2" text-anchor="middle" fill="#1a1a1a" font-weight="bold">*</text>
<path d="M57.50 386.6V388.6" stroke="#3a3a3a" stroke-width="0.8"/>
<text x="60.10" y="394.8" font-size="7.4" font-style="italic" text-anchor="end" transform="rotate(-33 60.10 394.8)" fill="#1a1a1a">OsFTL1</text>
<path d="M70.77 353.6V350.2H75.47V353.6" fill="#ffffff" stroke="#3a3a3a" stroke-width="0.75"/><rect x="70.77" y="361" width="4.70" height="25.600000000000023" fill="#ffffff"/><path d="M70.77 361V386.6M75.47 361V386.6" stroke="#3a3a3a" stroke-width="0.75"/>
<path d="M77.87 353.6V352.5H82.67V353.6" fill="#c4c4c4" stroke="#3a3a3a" stroke-width="0.75"/><rect x="77.87" y="361" width="4.80" height="25.600000000000023" fill="#c4c4c4"/><path d="M77.87 361V386.6M82.67 361V386.6" stroke="#3a3a3a" stroke-width="0.75"/>
<text x="80.27" y="353.00" font-size="6.2" text-anchor="middle" fill="#1a1a1a" font-weight="bold">**</text>
<path d="M76.57 386.6V388.6" stroke="#3a3a3a" stroke-width="0.8"/>
<text x="79.17" y="394.8" font-size="7.4" font-style="italic" text-anchor="end" transform="rotate(-33 79.17 394.8)" fill="#1a1a1a">OsFTL2</text>
<path d="M89.84 320.6V298.7H94.54V320.6" fill="#ffffff" stroke="#3a3a3a" stroke-width="0.75"/><rect x="89.84" y="327.6" width="4.70" height="26.0" fill="#ffffff"/><path d="M89.84 327.6V353.6M94.54 327.6V353.6" stroke="#3a3a3a" stroke-width="0.75"/><rect x="89.84" y="361" width="4.70" height="25.600000000000023" fill="#ffffff"/><path d="M89.84 361V386.6M94.54 361V386.6" stroke="#3a3a3a" stroke-width="0.75"/>
<path d="M96.94 320.6V314.8H101.74V320.6" fill="#c4c4c4" stroke="#3a3a3a" stroke-width="0.75"/><rect x="96.94" y="327.6" width="4.80" height="26.0" fill="#c4c4c4"/><path d="M96.94 327.6V353.6M101.74 327.6V353.6" stroke="#3a3a3a" stroke-width="0.75"/><rect x="96.94" y="361" width="4.80" height="25.600000000000023" fill="#c4c4c4"/><path d="M96.94 361V386.6M101.74 361V386.6" stroke="#3a3a3a" stroke-width="0.75"/>
<text x="99.34" y="314.80" font-size="6.2" text-anchor="middle" fill="#1a1a1a" font-weight="bold">**</text>
<path d="M95.64 386.6V388.6" stroke="#3a3a3a" stroke-width="0.8"/>
<text x="98.24" y="394.8" font-size="7.4" font-style="italic" text-anchor="end" transform="rotate(-33 98.24 394.8)" fill="#1a1a1a">OsFTL3</text>
<path d="M108.91 320.6V319.9H113.61V320.6" fill="#ffffff" stroke="#3a3a3a" stroke-width="0.75"/><rect x="108.91" y="327.6" width="4.70" height="26.0" fill="#ffffff"/><path d="M108.91 327.6V353.6M113.61 327.6V353.6" stroke="#3a3a3a" stroke-width="0.75"/><rect x="108.91" y="361" width="4.70" height="25.600000000000023" fill="#ffffff"/><path d="M108.91 361V386.6M113.61 361V386.6" stroke="#3a3a3a" stroke-width="0.75"/>
<path d="M116.01 353.6V336.7H120.81V353.6" fill="#c4c4c4" stroke="#3a3a3a" stroke-width="0.75"/><rect x="116.01" y="361" width="4.80" height="25.600000000000023" fill="#c4c4c4"/><path d="M116.01 361V386.6M120.81 361V386.6" stroke="#3a3a3a" stroke-width="0.75"/>
<text x="118.41" y="335.60" font-size="6.2" text-anchor="middle" fill="#1a1a1a" font-weight="bold">**</text>
<path d="M114.71 386.6V388.6" stroke="#3a3a3a" stroke-width="0.8"/>
<text x="117.31" y="394.8" font-size="7.4" font-style="italic" text-anchor="end" transform="rotate(-33 117.31 394.8)" fill="#1a1a1a">OsFTL4</text>
<path d="M127.98 353.6V352.5H132.68V353.6" fill="#ffffff" stroke="#3a3a3a" stroke-width="0.75"/><rect x="127.98" y="361" width="4.70" height="25.600000000000023" fill="#ffffff"/><path d="M127.98 361V386.6M132.68 361V386.6" stroke="#3a3a3a" stroke-width="0.75"/>
<path d="M135.08 353.6V352.0H139.88V353.6" fill="#c4c4c4" stroke="#3a3a3a" stroke-width="0.75"/><rect x="135.08" y="361" width="4.80" height="25.600000000000023" fill="#c4c4c4"/><path d="M135.08 361V386.6M139.88 361V386.6" stroke="#3a3a3a" stroke-width="0.75"/>
<text x="137.48" y="352.40" font-size="6.2" text-anchor="middle" fill="#1a1a1a" font-weight="bold">**</text>
<path d="M133.78 386.6V388.6" stroke="#3a3a3a" stroke-width="0.8"/>
<text x="136.38" y="394.8" font-size="7.4" font-style="italic" text-anchor="end" transform="rotate(-33 136.38 394.8)" fill="#1a1a1a">OsFTL5</text>
<path d="M147.05 320.6V314.1H151.75V320.6" fill="#ffffff" stroke="#3a3a3a" stroke-width="0.75"/><rect x="147.05" y="327.6" width="4.70" height="26.0" fill="#ffffff"/><path d="M147.05 327.6V353.6M151.75 327.6V353.6" stroke="#3a3a3a" stroke-width="0.75"/><rect x="147.05" y="361" width="4.70" height="25.600000000000023" fill="#ffffff"/><path d="M147.05 361V386.6M151.75 361V386.6" stroke="#3a3a3a" stroke-width="0.75"/>
<path d="M154.15 320.6V318.0H158.95V320.6" fill="#c4c4c4" stroke="#3a3a3a" stroke-width="0.75"/><rect x="154.15" y="327.6" width="4.80" height="26.0" fill="#c4c4c4"/><path d="M154.15 327.6V353.6M158.95 327.6V353.6" stroke="#3a3a3a" stroke-width="0.75"/><rect x="154.15" y="361" width="4.80" height="25.600000000000023" fill="#c4c4c4"/><path d="M154.15 361V386.6M158.95 361V386.6" stroke="#3a3a3a" stroke-width="0.75"/>
<text x="156.55" y="318.00" font-size="6.2" text-anchor="middle" fill="#1a1a1a" font-weight="bold">**</text>
<path d="M152.85 386.6V388.6" stroke="#3a3a3a" stroke-width="0.8"/>
<text x="155.45" y="394.8" font-size="7.4" font-style="italic" text-anchor="end" transform="rotate(-33 155.45 394.8)" fill="#1a1a1a">OsFTL6</text>
<path d="M166.12 353.6V335.5H170.82V353.6" fill="#ffffff" stroke="#3a3a3a" stroke-width="0.75"/><rect x="166.12" y="361" width="4.70" height="25.600000000000023" fill="#ffffff"/><path d="M166.12 361V386.6M170.82 361V386.6" stroke="#3a3a3a" stroke-width="0.75"/>
<path d="M173.22 353.6V350.2H178.02V353.6" fill="#c4c4c4" stroke="#3a3a3a" stroke-width="0.75"/><rect x="173.22" y="361" width="4.80" height="25.600000000000023" fill="#c4c4c4"/><path d="M173.22 361V386.6M178.02 361V386.6" stroke="#3a3a3a" stroke-width="0.75"/>
<text x="175.62" y="349.60" font-size="6.2" text-anchor="middle" fill="#1a1a1a" font-weight="bold">**</text>
<path d="M171.92 386.6V388.6" stroke="#3a3a3a" stroke-width="0.8"/>
<text x="174.52" y="394.8" font-size="7.4" font-style="italic" text-anchor="end" transform="rotate(-33 174.52 394.8)" fill="#1a1a1a">OsFTL7</text>
<path d="M185.19 386.6V380.8H189.89V386.6" fill="#ffffff" stroke="#3a3a3a" stroke-width="0.75"/>
<path d="M192.29 386.6V368.2H197.09V386.6" fill="#c4c4c4" stroke="#3a3a3a" stroke-width="0.75"/>
<text x="194.69" y="367.80" font-size="6.2" text-anchor="middle" fill="#1a1a1a" font-weight="bold">**</text>
<path d="M190.99 386.6V388.6" stroke="#3a3a3a" stroke-width="0.8"/>
<text x="193.59" y="394.8" font-size="7.4" font-style="italic" text-anchor="end" transform="rotate(-33 193.59 394.8)" fill="#1a1a1a">OsFTL8</text>
<path d="M204.26 353.6V331.0H208.96V353.6" fill="#ffffff" stroke="#3a3a3a" stroke-width="0.75"/><rect x="204.26" y="361" width="4.70" height="25.600000000000023" fill="#ffffff"/><path d="M204.26 361V386.6M208.96 361V386.6" stroke="#3a3a3a" stroke-width="0.75"/>
<path d="M211.36 353.6V346.6H216.16V353.6" fill="#c4c4c4" stroke="#3a3a3a" stroke-width="0.75"/><rect x="211.36" y="361" width="4.80" height="25.600000000000023" fill="#c4c4c4"/><path d="M211.36 361V386.6M216.16 361V386.6" stroke="#3a3a3a" stroke-width="0.75"/>
<text x="213.76" y="346.40" font-size="6.2" text-anchor="middle" fill="#1a1a1a" font-weight="bold">**</text>
<path d="M210.06 386.6V388.6" stroke="#3a3a3a" stroke-width="0.8"/>
<text x="212.66" y="394.8" font-size="7.4" font-style="italic" text-anchor="end" transform="rotate(-33 212.66 394.8)" fill="#1a1a1a">OsFTL9</text>
<path d="M223.33 320.6V304.3H228.03V320.6" fill="#ffffff" stroke="#3a3a3a" stroke-width="0.75"/><rect x="223.33" y="327.6" width="4.70" height="26.0" fill="#ffffff"/><path d="M223.33 327.6V353.6M228.03 327.6V353.6" stroke="#3a3a3a" stroke-width="0.75"/><rect x="223.33" y="361" width="4.70" height="25.600000000000023" fill="#ffffff"/><path d="M223.33 361V386.6M228.03 361V386.6" stroke="#3a3a3a" stroke-width="0.75"/>
<path d="M230.43 320.6V317.6H235.23V320.6" fill="#c4c4c4" stroke="#3a3a3a" stroke-width="0.75"/><rect x="230.43" y="327.6" width="4.80" height="26.0" fill="#c4c4c4"/><path d="M230.43 327.6V353.6M235.23 327.6V353.6" stroke="#3a3a3a" stroke-width="0.75"/><rect x="230.43" y="361" width="4.80" height="25.600000000000023" fill="#c4c4c4"/><path d="M230.43 361V386.6M235.23 361V386.6" stroke="#3a3a3a" stroke-width="0.75"/>
<text x="232.83" y="316.80" font-size="6.2" text-anchor="middle" fill="#1a1a1a" font-weight="bold">**</text>
<path d="M229.13 386.6V388.6" stroke="#3a3a3a" stroke-width="0.8"/>
<text x="231.73" y="394.8" font-size="7.4" font-style="italic" text-anchor="end" transform="rotate(-33 231.73 394.8)" fill="#1a1a1a">OsFTL10</text>
<path d="M242.40 353.6V352.9H247.10V353.6" fill="#ffffff" stroke="#3a3a3a" stroke-width="0.75"/><rect x="242.40" y="361" width="4.70" height="25.600000000000023" fill="#ffffff"/><path d="M242.40 361V386.6M247.10 361V386.6" stroke="#3a3a3a" stroke-width="0.75"/>
<path d="M249.50 353.6V352.4H254.30V353.6" fill="#c4c4c4" stroke="#3a3a3a" stroke-width="0.75"/><rect x="249.50" y="361" width="4.80" height="25.600000000000023" fill="#c4c4c4"/><path d="M249.50 361V386.6M254.30 361V386.6" stroke="#3a3a3a" stroke-width="0.75"/>
<text x="251.90" y="349.40" font-size="5.4" text-anchor="middle" fill="#1a1a1a" font-weight="normal">ns</text>
<path d="M248.20 386.6V388.6" stroke="#3a3a3a" stroke-width="0.8"/>
<text x="250.80" y="394.8" font-size="7.4" font-style="italic" text-anchor="end" transform="rotate(-33 250.80 394.8)" fill="#1a1a1a">OsFTL11</text>
<path d="M261.47 353.6V347.1H266.17V353.6" fill="#ffffff" stroke="#3a3a3a" stroke-width="0.75"/><rect x="261.47" y="361" width="4.70" height="25.600000000000023" fill="#ffffff"/><path d="M261.47 361V386.6M266.17 361V386.6" stroke="#3a3a3a" stroke-width="0.75"/>
<path d="M268.57 353.6V346.7H273.37V353.6" fill="#c4c4c4" stroke="#3a3a3a" stroke-width="0.75"/><rect x="268.57" y="361" width="4.80" height="25.600000000000023" fill="#c4c4c4"/><path d="M268.57 361V386.6M273.37 361V386.6" stroke="#3a3a3a" stroke-width="0.75"/>
<text x="270.97" y="343.20" font-size="5.4" text-anchor="middle" fill="#1a1a1a" font-weight="normal">ns</text>
<path d="M267.27 386.6V388.6" stroke="#3a3a3a" stroke-width="0.8"/>
<text x="269.87" y="394.8" font-size="7.4" font-style="italic" text-anchor="end" transform="rotate(-33 269.87 394.8)" fill="#1a1a1a">OsFTL12</text>
<path d="M280.54 353.6V353.3H285.24V353.6" fill="#ffffff" stroke="#3a3a3a" stroke-width="0.75"/><rect x="280.54" y="361" width="4.70" height="25.600000000000023" fill="#ffffff"/><path d="M280.54 361V386.6M285.24 361V386.6" stroke="#3a3a3a" stroke-width="0.75"/>
<path d="M287.64 353.6V352.9H292.44V353.6" fill="#c4c4c4" stroke="#3a3a3a" stroke-width="0.75"/><rect x="287.64" y="361" width="4.80" height="25.600000000000023" fill="#c4c4c4"/><path d="M287.64 361V386.6M292.44 361V386.6" stroke="#3a3a3a" stroke-width="0.75"/>
<text x="290.04" y="352.60" font-size="6.2" text-anchor="middle" fill="#1a1a1a" font-weight="bold">**</text>
<path d="M286.34 386.6V388.6" stroke="#3a3a3a" stroke-width="0.8"/>
<text x="288.94" y="394.8" font-size="7.4" font-style="italic" text-anchor="end" transform="rotate(-33 288.94 394.8)" fill="#1a1a1a">OsFTL13</text>
<path d="M299.61 386.6V382.7H304.31V386.6" fill="#ffffff" stroke="#3a3a3a" stroke-width="0.75"/>
<path d="M306.71 386.6V380.4H311.51V386.6" fill="#c4c4c4" stroke="#3a3a3a" stroke-width="0.75"/>
<text x="309.11" y="380.60" font-size="6.2" text-anchor="middle" fill="#1a1a1a" font-weight="bold">**</text>
<path d="M305.41 386.6V388.6" stroke="#3a3a3a" stroke-width="0.8"/>
<text x="308.01" y="394.8" font-size="7.4" font-style="italic" text-anchor="end" transform="rotate(-33 308.01 394.8)" fill="#1a1a1a">OsFTL14</text>
<path d="M318.68 353.6V349.6H323.38V353.6" fill="#ffffff" stroke="#3a3a3a" stroke-width="0.75"/><rect x="318.68" y="361" width="4.70" height="25.600000000000023" fill="#ffffff"/><path d="M318.68 361V386.6M323.38 361V386.6" stroke="#3a3a3a" stroke-width="0.75"/>
<path d="M325.78 353.6V347.5H330.58V353.6" fill="#c4c4c4" stroke="#3a3a3a" stroke-width="0.75"/><rect x="325.78" y="361" width="4.80" height="25.600000000000023" fill="#c4c4c4"/><path d="M325.78 361V386.6M330.58 361V386.6" stroke="#3a3a3a" stroke-width="0.75"/>
<text x="328.18" y="347.60" font-size="6.2" text-anchor="middle" fill="#1a1a1a" font-weight="bold">*</text>
<path d="M324.48 386.6V388.6" stroke="#3a3a3a" stroke-width="0.8"/>
<text x="327.08" y="394.8" font-size="7.4" font-style="italic" text-anchor="end" transform="rotate(-33 327.08 394.8)" fill="#1a1a1a">OsRCN1</text>
<path d="M337.75 353.6V353.3H342.45V353.6" fill="#ffffff" stroke="#3a3a3a" stroke-width="0.75"/><rect x="337.75" y="361" width="4.70" height="25.600000000000023" fill="#ffffff"/><path d="M337.75 361V386.6M342.45 361V386.6" stroke="#3a3a3a" stroke-width="0.75"/>
<path d="M344.85 353.6V349.4H349.65V353.6" fill="#c4c4c4" stroke="#3a3a3a" stroke-width="0.75"/><rect x="344.85" y="361" width="4.80" height="25.600000000000023" fill="#c4c4c4"/><path d="M344.85 361V386.6M349.65 361V386.6" stroke="#3a3a3a" stroke-width="0.75"/>
<text x="347.25" y="348.60" font-size="6.2" text-anchor="middle" fill="#1a1a1a" font-weight="bold">**</text>
<path d="M343.55 386.6V388.6" stroke="#3a3a3a" stroke-width="0.8"/>
<text x="346.15" y="394.8" font-size="7.4" font-style="italic" text-anchor="end" transform="rotate(-33 346.15 394.8)" fill="#1a1a1a">OsRCN2</text>
<path d="M356.82 353.6V344.9H361.52V353.6" fill="#ffffff" stroke="#3a3a3a" stroke-width="0.75"/><rect x="356.82" y="361" width="4.70" height="25.600000000000023" fill="#ffffff"/><path d="M356.82 361V386.6M361.52 361V386.6" stroke="#3a3a3a" stroke-width="0.75"/>
<path d="M363.92 353.6V343.7H368.72V353.6" fill="#c4c4c4" stroke="#3a3a3a" stroke-width="0.75"/><rect x="363.92" y="361" width="4.80" height="25.600000000000023" fill="#c4c4c4"/><path d="M363.92 361V386.6M368.72 361V386.6" stroke="#3a3a3a" stroke-width="0.75"/>
<text x="366.32" y="343.20" font-size="6.2" text-anchor="middle" fill="#1a1a1a" font-weight="bold">*</text>
<path d="M362.62 386.6V388.6" stroke="#3a3a3a" stroke-width="0.8"/>
<text x="365.22" y="394.8" font-size="7.4" font-style="italic" text-anchor="end" transform="rotate(-33 365.22 394.8)" fill="#1a1a1a">OsRCN3</text>
<path d="M375.89 353.6V353.3H380.59V353.6" fill="#ffffff" stroke="#3a3a3a" stroke-width="0.75"/><rect x="375.89" y="361" width="4.70" height="25.600000000000023" fill="#ffffff"/><path d="M375.89 361V386.6M380.59 361V386.6" stroke="#3a3a3a" stroke-width="0.75"/>
<path d="M382.99 353.6V351.4H387.79V353.6" fill="#c4c4c4" stroke="#3a3a3a" stroke-width="0.75"/><rect x="382.99" y="361" width="4.80" height="25.600000000000023" fill="#c4c4c4"/><path d="M382.99 361V386.6M387.79 361V386.6" stroke="#3a3a3a" stroke-width="0.75"/>
<text x="385.39" y="352.40" font-size="6.2" text-anchor="middle" fill="#1a1a1a" font-weight="bold">**</text>
<path d="M381.69 386.6V388.6" stroke="#3a3a3a" stroke-width="0.8"/>
<text x="384.29" y="394.8" font-size="7.4" font-style="italic" text-anchor="end" transform="rotate(-33 384.29 394.8)" fill="#1a1a1a">OsRCN4</text>
<path d="M394.96 386.6V370.2H399.66V386.6" fill="#ffffff" stroke="#3a3a3a" stroke-width="0.75"/>
<path d="M402.06 386.6V377.2H406.86V386.6" fill="#c4c4c4" stroke="#3a3a3a" stroke-width="0.75"/>
<text x="404.46" y="375.80" font-size="6.2" text-anchor="middle" fill="#1a1a1a" font-weight="bold">**</text>
<path d="M400.76 386.6V388.6" stroke="#3a3a3a" stroke-width="0.8"/>
<text x="403.36" y="394.8" font-size="7.4" font-style="italic" text-anchor="end" transform="rotate(-33 403.36 394.8)" fill="#1a1a1a">OsMFT1</text>
<path d="M414.03 353.6V341.2H418.73V353.6" fill="#ffffff" stroke="#3a3a3a" stroke-width="0.75"/><rect x="414.03" y="361" width="4.70" height="25.600000000000023" fill="#ffffff"/><path d="M414.03 361V386.6M418.73 361V386.6" stroke="#3a3a3a" stroke-width="0.75"/>
<path d="M421.13 353.6V342.9H425.93V353.6" fill="#c4c4c4" stroke="#3a3a3a" stroke-width="0.75"/><rect x="421.13" y="361" width="4.80" height="25.600000000000023" fill="#c4c4c4"/><path d="M421.13 361V386.6M425.93 361V386.6" stroke="#3a3a3a" stroke-width="0.75"/>
<text x="423.53" y="341.20" font-size="6.2" text-anchor="middle" fill="#1a1a1a" font-weight="bold">*</text>
<path d="M419.83 386.6V388.6" stroke="#3a3a3a" stroke-width="0.8"/>
<text x="422.43" y="394.8" font-size="7.4" font-style="italic" text-anchor="end" transform="rotate(-33 422.43 394.8)" fill="#1a1a1a">OsMFT2</text>
<text x="396.90" y="370.80" font-size="6.2" text-anchor="middle" fill="#1a1a1a" font-weight="bold">*</text>
<rect x="316" y="300.2" width="11.6" height="5.2" fill="#fff" stroke="#3a3a3a" stroke-width="0.8"/>
<rect x="316" y="312" width="11.6" height="5.2" fill="#cfcfcf" stroke="#3a3a3a" stroke-width="0.8"/>
<text x="335.4" y="305.6" font-size="7.2" font-weight="bold" fill="#1a1a1a">Leaf</text>
<text x="334" y="317.6" font-size="7.2" fill="#1a1a1a">Leaf vein</text>
<text x="13.2" y="340.5" font-size="7.3" text-anchor="middle" transform="rotate(-90 13.2 340.5)" fill="#1a1a1a">Relative level</text>
<text x="7.0" y="420.3" font-size="9" font-weight="bold" fill="#111">d</text>
<rect x="38.20" y="414.90" width="17.53" height="8.00" fill="#8a9fb0"/>
<rect x="55.68" y="414.90" width="17.53" height="8.00" fill="#5a78b4"/>
<rect x="73.16" y="414.90" width="17.53" height="8.00" fill="#6482b4"/>
<rect x="90.64" y="414.90" width="17.53" height="8.00" fill="#6482b4"/>
<rect x="108.12" y="414.90" width="17.53" height="8.00" fill="#7890b2"/>
<rect x="125.60" y="414.90" width="17.53" height="8.00" fill="#eb9470"/>
<rect x="143.08" y="414.90" width="17.53" height="8.00" fill="#eb9a74"/>
<rect x="160.56" y="414.90" width="17.53" height="8.00" fill="#dc4632"/>
<rect x="178.04" y="414.90" width="17.53" height="8.00" fill="#dc4632"/>
<rect x="195.52" y="414.90" width="17.53" height="8.00" fill="#d83a2c"/>
<rect x="213.00" y="414.90" width="17.53" height="8.00" fill="#e06448"/>
<rect x="230.48" y="414.90" width="17.53" height="8.00" fill="#eb9470"/>
<rect x="247.96" y="414.90" width="17.53" height="8.00" fill="#f0e0a0"/>
<rect x="265.44" y="414.90" width="17.53" height="8.00" fill="#c8caa2"/>
<rect x="282.92" y="414.90" width="17.53" height="8.00" fill="#c4c6a2"/>
<rect x="300.40" y="414.90" width="17.53" height="8.00" fill="#eee4a4"/>
<rect x="317.88" y="414.90" width="17.53" height="8.00" fill="#c4c6a2"/>
<rect x="38.20" y="422.85" width="17.53" height="8.00" fill="#4a6cb4"/>
<rect x="55.68" y="422.85" width="17.53" height="8.00" fill="#3a5cb4"/>
<rect x="73.16" y="422.85" width="17.53" height="8.00" fill="#4a6cb4"/>
<rect x="90.64" y="422.85" width="17.53" height="8.00" fill="#4a6cb4"/>
<rect x="108.12" y="422.85" width="17.53" height="8.00" fill="#5a78b4"/>
<rect x="125.60" y="422.85" width="17.53" height="8.00" fill="#7890b2"/>
<rect x="143.08" y="422.85" width="17.53" height="8.00" fill="#6a86b4"/>
<rect x="160.56" y="422.85" width="17.53" height="8.00" fill="#98a8aa"/>
<rect x="178.04" y="422.85" width="17.53" height="8.00" fill="#dedca0"/>
<rect x="195.52" y="422.85" width="17.53" height="8.00" fill="#efbd8a"/>
<rect x="213.00" y="422.85" width="17.53" height="8.00" fill="#eda078"/>
<rect x="230.48" y="422.85" width="17.53" height="8.00" fill="#eb9a74"/>
<rect x="247.96" y="422.85" width="17.53" height="8.00" fill="#e47452"/>
<rect x="265.44" y="422.85" width="17.53" height="8.00" fill="#e88460"/>
<rect x="282.92" y="422.85" width="17.53" height="8.00" fill="#e26a4c"/>
<rect x="300.40" y="422.85" width="17.53" height="8.00" fill="#e06448"/>
<rect x="317.88" y="422.85" width="17.53" height="8.00" fill="#e26a4c"/>
<rect x="38.20" y="430.80" width="17.53" height="8.00" fill="#4a6cb4"/>
<rect x="55.68" y="430.80" width="17.53" height="8.00" fill="#3a5cb4"/>
<rect x="73.16" y="430.80" width="17.53" height="8.00" fill="#4a6cb4"/>
<rect x="90.64" y="430.80" width="17.53" height="8.00" fill="#4a6cb4"/>
<rect x="108.12" y="430.80" width="17.53" height="8.00" fill="#5a78b4"/>
<rect x="125.60" y="430.80" width="17.53" height="8.00" fill="#b8bea4"/>
<rect x="143.08" y="430.80" width="17.53" height="8.00" fill="#9eaca8"/>
<rect x="160.56" y="430.80" width="17.53" height="8.00" fill="#efd49a"/>
<rect x="178.04" y="430.80" width="17.53" height="8.00" fill="#efcc92"/>
<rect x="195.52" y="430.80" width="17.53" height="8.00" fill="#eba078"/>
<rect x="213.00" y="430.80" width="17.53" height="8.00" fill="#efb888"/>
<rect x="230.48" y="430.80" width="17.53" height="8.00" fill="#efb888"/>
<rect x="247.96" y="430.80" width="17.53" height="8.00" fill="#d4d6a8"/>
<rect x="265.44" y="430.80" width="17.53" height="8.00" fill="#efbd8a"/>
<rect x="282.92" y="430.80" width="17.53" height="8.00" fill="#efb888"/>
<rect x="300.40" y="430.80" width="17.53" height="8.00" fill="#eee4a4"/>
<rect x="317.88" y="430.80" width="17.53" height="8.00" fill="#a8b2a6"/>
<rect x="38.20" y="438.75" width="17.53" height="8.00" fill="#8a9fb0"/>
<rect x="55.68" y="438.75" width="17.53" height="8.00" fill="#8a9fb0"/>
<rect x="73.16" y="438.75" width="17.53" height="8.00" fill="#8a9fb0"/>
<rect x="90.64" y="438.75" width="17.53" height="8.00" fill="#8a9fb0"/>
<rect x="108.12" y="438.75" width="17.53" height="8.00" fill="#8096b0"/>
<rect x="125.60" y="438.75" width="17.53" height="8.00" fill="#f0e0a0"/>
<rect x="143.08" y="438.75" width="17.53" height="8.00" fill="#efae80"/>
<rect x="160.56" y="438.75" width="17.53" height="8.00" fill="#efb282"/>
<rect x="178.04" y="438.75" width="17.53" height="8.00" fill="#e98c66"/>
<rect x="195.52" y="438.75" width="17.53" height="8.00" fill="#e06448"/>
<rect x="213.00" y="438.75" width="17.53" height="8.00" fill="#e47452"/>
<rect x="230.48" y="438.75" width="17.53" height="8.00" fill="#efa87c"/>
<rect x="247.96" y="438.75" width="17.53" height="8.00" fill="#f0d898"/>
<rect x="265.44" y="438.75" width="17.53" height="8.00" fill="#eb9470"/>
<rect x="282.92" y="438.75" width="17.53" height="8.00" fill="#eb9470"/>
<rect x="300.40" y="438.75" width="17.53" height="8.00" fill="#efb282"/>
<rect x="317.88" y="438.75" width="17.53" height="8.00" fill="#efdc9e"/>
<rect x="38.20" y="446.70" width="17.53" height="8.00" fill="#efb080"/>
<rect x="55.68" y="446.70" width="17.53" height="8.00" fill="#e26a4c"/>
<rect x="73.16" y="446.70" width="17.53" height="8.00" fill="#dc4a34"/>
<rect x="90.64" y="446.70" width="17.53" height="8.00" fill="#e06448"/>
<rect x="108.12" y="446.70" width="17.53" height="8.00" fill="#e47a56"/>
<rect x="125.60" y="446.70" width="17.53" height="8.00" fill="#e26a4c"/>
<rect x="143.08" y="446.70" width="17.53" height="8.00" fill="#efae80"/>
<rect x="160.56" y="446.70" width="17.53" height="8.00" fill="#b0bba5"/>
<rect x="178.04" y="446.70" width="17.53" height="8.00" fill="#8a9fb0"/>
<rect x="195.52" y="446.70" width="17.53" height="8.00" fill="#98a8aa"/>
<rect x="213.00" y="446.70" width="17.53" height="8.00" fill="#98a8aa"/>
<rect x="230.48" y="446.70" width="17.53" height="8.00" fill="#98a8aa"/>
<rect x="247.96" y="446.70" width="17.53" height="8.00" fill="#c8caa2"/>
<rect x="265.44" y="446.70" width="17.53" height="8.00" fill="#f0dca0"/>
<rect x="282.92" y="446.70" width="17.53" height="8.00" fill="#d4d6a8"/>
<rect x="300.40" y="446.70" width="17.53" height="8.00" fill="#4a6cb4"/>
<rect x="317.88" y="446.70" width="17.53" height="8.00" fill="#b8bea4"/>
<rect x="38.20" y="454.65" width="17.53" height="8.00" fill="#7890b2"/>
<rect x="55.68" y="454.65" width="17.53" height="8.00" fill="#7890b2"/>
<rect x="73.16" y="454.65" width="17.53" height="8.00" fill="#6a86b4"/>
<rect x="90.64" y="454.65" width="17.53" height="8.00" fill="#6a86b4"/>
<rect x="108.12" y="454.65" width="17.53" height="8.00" fill="#8a9fb0"/>
<rect x="125.60" y="454.65" width="17.53" height="8.00" fill="#9eaca8"/>
<rect x="143.08" y="454.65" width="17.53" height="8.00" fill="#b4bea4"/>
<rect x="160.56" y="454.65" width="17.53" height="8.00" fill="#f0e0a2"/>
<rect x="178.04" y="454.65" width="17.53" height="8.00" fill="#5a78b4"/>
<rect x="195.52" y="454.65" width="17.53" height="8.00" fill="#7890b2"/>
<rect x="213.00" y="454.65" width="17.53" height="8.00" fill="#5a78b4"/>
<rect x="230.48" y="454.65" width="17.53" height="8.00" fill="#6482b4"/>
<rect x="247.96" y="454.65" width="17.53" height="8.00" fill="#4a6cb4"/>
<rect x="265.44" y="454.65" width="17.53" height="8.00" fill="#4a6cb4"/>
<rect x="282.92" y="454.65" width="17.53" height="8.00" fill="#4a6cb4"/>
<rect x="300.40" y="454.65" width="17.53" height="8.00" fill="#4a6cb4"/>
<rect x="317.88" y="454.65" width="17.53" height="8.00" fill="#4e70b4"/>
<rect x="38.20" y="462.60" width="17.53" height="8.00" fill="#4e70b4"/>
<rect x="55.68" y="462.60" width="17.53" height="8.00" fill="#a8b2a6"/>
<rect x="73.16" y="462.60" width="17.53" height="8.00" fill="#4a6cb4"/>
<rect x="90.64" y="462.60" width="17.53" height="8.00" fill="#4a6cb4"/>
<rect x="108.12" y="462.60" width="17.53" height="8.00" fill="#5a78b4"/>
<rect x="125.60" y="462.60" width="17.53" height="8.00" fill="#6a86b4"/>
<rect x="143.08" y="462.60" width="17.53" height="8.00" fill="#6a86b4"/>
<rect x="160.56" y="462.60" width="17.53" height="8.00" fill="#8096b0"/>
<rect x="178.04" y="462.60" width="17.53" height="8.00" fill="#6a86b4"/>
<rect x="195.52" y="462.60" width="17.53" height="8.00" fill="#8096b0"/>
<rect x="213.00" y="462.60" width="17.53" height="8.00" fill="#6a86b4"/>
<rect x="230.48" y="462.60" width="17.53" height="8.00" fill="#6a86b4"/>
<rect x="247.96" y="462.60" width="17.53" height="8.00" fill="#5a78b4"/>
<rect x="265.44" y="462.60" width="17.53" height="8.00" fill="#5070b4"/>
<rect x="282.92" y="462.60" width="17.53" height="8.00" fill="#5a78b4"/>
<rect x="300.40" y="462.60" width="17.53" height="8.00" fill="#5070b4"/>
<rect x="317.88" y="462.60" width="17.53" height="8.00" fill="#7890b2"/>
<rect x="38.20" y="470.55" width="17.53" height="8.00" fill="#4e70b4"/>
<rect x="55.68" y="470.55" width="17.53" height="8.00" fill="#3a5cb4"/>
<rect x="73.16" y="470.55" width="17.53" height="8.00" fill="#5070b4"/>
<rect x="90.64" y="470.55" width="17.53" height="8.00" fill="#4a6cb4"/>
<rect x="108.12" y="470.55" width="17.53" height="8.00" fill="#6a86b4"/>
<rect x="125.60" y="470.55" width="17.53" height="8.00" fill="#7890b2"/>
<rect x="143.08" y="470.55" width="17.53" height="8.00" fill="#6a86b4"/>
<rect x="160.56" y="470.55" width="17.53" height="8.00" fill="#7890b2"/>
<rect x="178.04" y="470.55" width="17.53" height="8.00" fill="#5a78b4"/>
<rect x="195.52" y="470.55" width="17.53" height="8.00" fill="#6482b4"/>
<rect x="213.00" y="470.55" width="17.53" height="8.00" fill="#6a86b4"/>
<rect x="230.48" y="470.55" width="17.53" height="8.00" fill="#6a86b4"/>
<rect x="247.96" y="470.55" width="17.53" height="8.00" fill="#5a78b4"/>
<rect x="265.44" y="470.55" width="17.53" height="8.00" fill="#4e70b4"/>
<rect x="282.92" y="470.55" width="17.53" height="8.00" fill="#5070b4"/>
<rect x="300.40" y="470.55" width="17.53" height="8.00" fill="#4a6cb4"/>
<rect x="317.88" y="470.55" width="17.53" height="8.00" fill="#4e70b4"/>
<rect x="38.20" y="478.50" width="17.53" height="8.00" fill="#4e70b4"/>
<rect x="55.68" y="478.50" width="17.53" height="8.00" fill="#3a5cb4"/>
<rect x="73.16" y="478.50" width="17.53" height="8.00" fill="#5070b4"/>
<rect x="90.64" y="478.50" width="17.53" height="8.00" fill="#4a6cb4"/>
<rect x="108.12" y="478.50" width="17.53" height="8.00" fill="#6a86b4"/>
<rect x="125.60" y="478.50" width="17.53" height="8.00" fill="#7890b2"/>
<rect x="143.08" y="478.50" width="17.53" height="8.00" fill="#6a86b4"/>
<rect x="160.56" y="478.50" width="17.53" height="8.00" fill="#8096b0"/>
<rect x="178.04" y="478.50" width="17.53" height="8.00" fill="#5a78b4"/>
<rect x="195.52" y="478.50" width="17.53" height="8.00" fill="#6482b4"/>
<rect x="213.00" y="478.50" width="17.53" height="8.00" fill="#6a86b4"/>
<rect x="230.48" y="478.50" width="17.53" height="8.00" fill="#6a86b4"/>
<rect x="247.96" y="478.50" width="17.53" height="8.00" fill="#5a78b4"/>
<rect x="265.44" y="478.50" width="17.53" height="8.00" fill="#4e70b4"/>
<rect x="282.92" y="478.50" width="17.53" height="8.00" fill="#5070b4"/>
<rect x="300.40" y="478.50" width="17.53" height="8.00" fill="#4a6cb4"/>
<rect x="317.88" y="478.50" width="17.53" height="8.00" fill="#4e70b4"/>
<rect x="38.20" y="486.45" width="17.53" height="8.00" fill="#4e70b4"/>
<rect x="55.68" y="486.45" width="17.53" height="8.00" fill="#3a5cb4"/>
<rect x="73.16" y="486.45" width="17.53" height="8.00" fill="#5070b4"/>
<rect x="90.64" y="486.45" width="17.53" height="8.00" fill="#4a6cb4"/>
<rect x="108.12" y="486.45" width="17.53" height="8.00" fill="#6a86b4"/>
<rect x="125.60" y="486.45" width="17.53" height="8.00" fill="#7890b2"/>
<rect x="143.08" y="486.45" width="17.53" height="8.00" fill="#6482b4"/>
<rect x="160.56" y="486.45" width="17.53" height="8.00" fill="#8a9fb0"/>
<rect x="178.04" y="486.45" width="17.53" height="8.00" fill="#5a78b4"/>
<rect x="195.52" y="486.45" width="17.53" height="8.00" fill="#6482b4"/>
<rect x="213.00" y="486.45" width="17.53" height="8.00" fill="#6a86b4"/>
<rect x="230.48" y="486.45" width="17.53" height="8.00" fill="#6a86b4"/>
<rect x="247.96" y="486.45" width="17.53" height="8.00" fill="#5a78b4"/>
<rect x="265.44" y="486.45" width="17.53" height="8.00" fill="#4e70b4"/>
<rect x="282.92" y="486.45" width="17.53" height="8.00" fill="#5070b4"/>
<rect x="300.40" y="486.45" width="17.53" height="8.00" fill="#4a6cb4"/>
<rect x="317.88" y="486.45" width="17.53" height="8.00" fill="#4e70b4"/>
<rect x="38.20" y="494.40" width="17.53" height="8.00" fill="#4e70b4"/>
<rect x="55.68" y="494.40" width="17.53" height="8.00" fill="#3a5cb4"/>
<rect x="73.16" y="494.40" width="17.53" height="8.00" fill="#5070b4"/>
<rect x="90.64" y="494.40" width="17.53" height="8.00" fill="#4e70b4"/>
<rect x="108.12" y="494.40" width="17.53" height="8.00" fill="#6a86b4"/>
<rect x="125.60" y="494.40" width="17.53" height="8.00" fill="#7890b2"/>
<rect x="143.08" y="494.40" width="17.53" height="8.00" fill="#6482b4"/>
<rect x="160.56" y="494.40" width="17.53" height="8.00" fill="#7890b2"/>
<rect x="178.04" y="494.40" width="17.53" height="8.00" fill="#5a78b4"/>
<rect x="195.52" y="494.40" width="17.53" height="8.00" fill="#6482b4"/>
<rect x="213.00" y="494.40" width="17.53" height="8.00" fill="#6a86b4"/>
<rect x="230.48" y="494.40" width="17.53" height="8.00" fill="#6a86b4"/>
<rect x="247.96" y="494.40" width="17.53" height="8.00" fill="#5a78b4"/>
<rect x="265.44" y="494.40" width="17.53" height="8.00" fill="#4e70b4"/>
<rect x="282.92" y="494.40" width="17.53" height="8.00" fill="#5070b4"/>
<rect x="300.40" y="494.40" width="17.53" height="8.00" fill="#4a6cb4"/>
<rect x="317.88" y="494.40" width="17.53" height="8.00" fill="#4e70b4"/>
<rect x="38.20" y="502.35" width="17.53" height="8.00" fill="#4e70b4"/>
<rect x="55.68" y="502.35" width="17.53" height="8.00" fill="#3e60b4"/>
<rect x="73.16" y="502.35" width="17.53" height="8.00" fill="#5070b4"/>
<rect x="90.64" y="502.35" width="17.53" height="8.00" fill="#4e70b4"/>
<rect x="108.12" y="502.35" width="17.53" height="8.00" fill="#6a86b4"/>
<rect x="125.60" y="502.35" width="17.53" height="8.00" fill="#7890b2"/>
<rect x="143.08" y="502.35" width="17.53" height="8.00" fill="#6a86b4"/>
<rect x="160.56" y="502.35" width="17.53" height="8.00" fill="#7890b2"/>
<rect x="178.04" y="502.35" width="17.53" height="8.00" fill="#5a78b4"/>
<rect x="195.52" y="502.35" width="17.53" height="8.00" fill="#6482b4"/>
<rect x="213.00" y="502.35" width="17.53" height="8.00" fill="#6a86b4"/>
<rect x="230.48" y="502.35" width="17.53" height="8.00" fill="#6a86b4"/>
<rect x="247.96" y="502.35" width="17.53" height="8.00" fill="#5a78b4"/>
<rect x="265.44" y="502.35" width="17.53" height="8.00" fill="#4e70b4"/>
<rect x="282.92" y="502.35" width="17.53" height="8.00" fill="#5070b4"/>
<rect x="300.40" y="502.35" width="17.53" height="8.00" fill="#4a6cb4"/>
<rect x="317.88" y="502.35" width="17.53" height="8.00" fill="#4e70b4"/>
<rect x="38.20" y="510.30" width="17.53" height="8.00" fill="#98a8aa"/>
<rect x="55.68" y="510.30" width="17.53" height="8.00" fill="#aab4a6"/>
<rect x="73.16" y="510.30" width="17.53" height="8.00" fill="#a4b0a6"/>
<rect x="90.64" y="510.30" width="17.53" height="8.00" fill="#a4b0a6"/>
<rect x="108.12" y="510.30" width="17.53" height="8.00" fill="#9eaca8"/>
<rect x="125.60" y="510.30" width="17.53" height="8.00" fill="#e0dca0"/>
<rect x="143.08" y="510.30" width="17.53" height="8.00" fill="#e0dca0"/>
<rect x="160.56" y="510.30" width="17.53" height="8.00" fill="#efd89a"/>
<rect x="178.04" y="510.30" width="17.53" height="8.00" fill="#eedea0"/>
<rect x="195.52" y="510.30" width="17.53" height="8.00" fill="#d8d8a4"/>
<rect x="213.00" y="510.30" width="17.53" height="8.00" fill="#e6e0a0"/>
<rect x="230.48" y="510.30" width="17.53" height="8.00" fill="#e6e0a0"/>
<rect x="247.96" y="510.30" width="17.53" height="8.00" fill="#b8bea4"/>
<rect x="265.44" y="510.30" width="17.53" height="8.00" fill="#d8d8a4"/>
<rect x="282.92" y="510.30" width="17.53" height="8.00" fill="#e6e0a0"/>
<rect x="300.40" y="510.30" width="17.53" height="8.00" fill="#c4c6a2"/>
<rect x="317.88" y="510.30" width="17.53" height="8.00" fill="#e0dca0"/>
<rect x="38.20" y="518.25" width="17.53" height="8.00" fill="#4e70b4"/>
<rect x="55.68" y="518.25" width="17.53" height="8.00" fill="#3a5cb4"/>
<rect x="73.16" y="518.25" width="17.53" height="8.00" fill="#5070b4"/>
<rect x="90.64" y="518.25" width="17.53" height="8.00" fill="#4e70b4"/>
<rect x="108.12" y="518.25" width="17.53" height="8.00" fill="#6a86b4"/>
<rect x="125.60" y="518.25" width="17.53" height="8.00" fill="#7890b2"/>
<rect x="143.08" y="518.25" width="17.53" height="8.00" fill="#6a86b4"/>
<rect x="160.56" y="518.25" width="17.53" height="8.00" fill="#6a86b4"/>
<rect x="178.04" y="518.25" width="17.53" height="8.00" fill="#5a78b4"/>
<rect x="195.52" y="518.25" width="17.53" height="8.00" fill="#e8e0a0"/>
<rect x="213.00" y="518.25" width="17.53" height="8.00" fill="#efd49a"/>
<rect x="230.48" y="518.25" width="17.53" height="8.00" fill="#efdc9e"/>
<rect x="247.96" y="518.25" width="17.53" height="8.00" fill="#98a8aa"/>
<rect x="265.44" y="518.25" width="17.53" height="8.00" fill="#efe0a0"/>
<rect x="282.92" y="518.25" width="17.53" height="8.00" fill="#efe4a2"/>
<rect x="300.40" y="518.25" width="17.53" height="8.00" fill="#a8b2a6"/>
<rect x="317.88" y="518.25" width="17.53" height="8.00" fill="#8ea2ae"/>
<line x1="55.68" y1="414.90" x2="55.68" y2="526.20" stroke="#ffffff" stroke-opacity="0.42" stroke-width="0.6"/>
<line x1="73.16" y1="414.90" x2="73.16" y2="526.20" stroke="#ffffff" stroke-opacity="0.42" stroke-width="0.6"/>
<line x1="90.64" y1="414.90" x2="90.64" y2="526.20" stroke="#ffffff" stroke-opacity="0.42" stroke-width="0.6"/>
<line x1="108.12" y1="414.90" x2="108.12" y2="526.20" stroke="#ffffff" stroke-opacity="0.42" stroke-width="0.6"/>
<line x1="125.60" y1="414.90" x2="125.60" y2="526.20" stroke="#ffffff" stroke-opacity="0.42" stroke-width="0.6"/>
<line x1="143.08" y1="414.90" x2="143.08" y2="526.20" stroke="#ffffff" stroke-opacity="0.42" stroke-width="0.6"/>
<line x1="160.56" y1="414.90" x2="160.56" y2="526.20" stroke="#ffffff" stroke-opacity="0.42" stroke-width="0.6"/>
<line x1="178.04" y1="414.90" x2="178.04" y2="526.20" stroke="#ffffff" stroke-opacity="0.42" stroke-width="0.6"/>
<line x1="195.52" y1="414.90" x2="195.52" y2="526.20" stroke="#ffffff" stroke-opacity="0.42" stroke-width="0.6"/>
<line x1="213.00" y1="414.90" x2="213.00" y2="526.20" stroke="#ffffff" stroke-opacity="0.42" stroke-width="0.6"/>
<line x1="230.48" y1="414.90" x2="230.48" y2="526.20" stroke="#ffffff" stroke-opacity="0.42" stroke-width="0.6"/>
<line x1="247.96" y1="414.90" x2="247.96" y2="526.20" stroke="#ffffff" stroke-opacity="0.42" stroke-width="0.6"/>
<line x1="265.44" y1="414.90" x2="265.44" y2="526.20" stroke="#ffffff" stroke-opacity="0.42" stroke-width="0.6"/>
<line x1="282.92" y1="414.90" x2="282.92" y2="526.20" stroke="#ffffff" stroke-opacity="0.42" stroke-width="0.6"/>
<line x1="300.40" y1="414.90" x2="300.40" y2="526.20" stroke="#ffffff" stroke-opacity="0.42" stroke-width="0.6"/>
<line x1="317.88" y1="414.90" x2="317.88" y2="526.20" stroke="#ffffff" stroke-opacity="0.42" stroke-width="0.6"/>
<line x1="38.20" y1="422.85" x2="335.36" y2="422.85" stroke="#ffffff" stroke-opacity="0.42" stroke-width="0.6"/>
<line x1="38.20" y1="430.80" x2="335.36" y2="430.80" stroke="#ffffff" stroke-opacity="0.42" stroke-width="0.6"/>
<line x1="38.20" y1="438.75" x2="335.36" y2="438.75" stroke="#ffffff" stroke-opacity="0.42" stroke-width="0.6"/>
<line x1="38.20" y1="446.70" x2="335.36" y2="446.70" stroke="#ffffff" stroke-opacity="0.42" stroke-width="0.6"/>
<line x1="38.20" y1="454.65" x2="335.36" y2="454.65" stroke="#ffffff" stroke-opacity="0.42" stroke-width="0.6"/>
<line x1="38.20" y1="462.60" x2="335.36" y2="462.60" stroke="#ffffff" stroke-opacity="0.42" stroke-width="0.6"/>
<line x1="38.20" y1="470.55" x2="335.36" y2="470.55" stroke="#ffffff" stroke-opacity="0.42" stroke-width="0.6"/>
<line x1="38.20" y1="478.50" x2="335.36" y2="478.50" stroke="#ffffff" stroke-opacity="0.42" stroke-width="0.6"/>
<line x1="38.20" y1="486.45" x2="335.36" y2="486.45" stroke="#ffffff" stroke-opacity="0.42" stroke-width="0.6"/>
<line x1="38.20" y1="494.40" x2="335.36" y2="494.40" stroke="#ffffff" stroke-opacity="0.42" stroke-width="0.6"/>
<line x1="38.20" y1="502.35" x2="335.36" y2="502.35" stroke="#ffffff" stroke-opacity="0.42" stroke-width="0.6"/>
<line x1="38.20" y1="510.30" x2="335.36" y2="510.30" stroke="#ffffff" stroke-opacity="0.42" stroke-width="0.6"/>
<line x1="38.20" y1="518.25" x2="335.36" y2="518.25" stroke="#ffffff" stroke-opacity="0.42" stroke-width="0.6"/>
<path d="M24.70 434.77V442.73M24.70 434.77H38.20M24.70 442.73H38.20M22.90 426.82V438.75M22.90 426.82H38.20M22.90 438.75H24.70M19.30 418.88V432.79M19.30 418.88H38.20M19.30 432.79H22.90M32.70 474.52V482.48M32.70 474.52H38.20M32.70 482.48H38.20M35.40 498.38V506.32M35.40 498.38H38.20M35.40 506.32H38.20M32.70 490.43V502.35M32.70 490.43H38.20M32.70 502.35H35.40M30.10 478.50V496.39M30.10 478.50H32.70M30.10 496.39H32.70M27.50 466.57V487.44M27.50 466.57H38.20M27.50 487.44H30.10M24.70 458.62V477.01M24.70 458.62H38.20M24.70 477.01H27.50M25.10 514.27V522.23M25.10 514.27H38.20M25.10 522.23H38.20M22.60 467.82V518.25M22.60 467.82H24.70M22.60 518.25H25.10M19.80 450.68V493.03M19.80 450.68H38.20M19.80 493.03H22.60M17.40 425.83V471.85M17.40 425.83H19.30M17.40 471.85H19.80" fill="none" stroke="#555" stroke-width="0.8"/>
<text x="338.00" y="422.40" font-size="7.6" font-style="italic" fill="#1a1a1a">OsMFT1</text>
<text x="338.00" y="430.35" font-size="7.6" font-style="italic" fill="#1a1a1a">OsFTL1/OsFTL</text>
<text x="338.00" y="438.30" font-size="7.6" font-style="italic" fill="#1a1a1a">OsFTL9</text>
<text x="338.00" y="446.25" font-size="7.6" font-style="italic" fill="#1a1a1a">OsFTL3/RFT1</text>
<text x="338.00" y="454.20" font-size="7.6" font-style="italic" fill="#1a1a1a">OsFTL6</text>
<text x="338.00" y="462.15" font-size="7.6" font-style="italic" fill="#1a1a1a">OsFTL12</text>
<text x="338.00" y="470.10" font-size="7.6" font-style="italic" fill="#1a1a1a">OsRCN2</text>
<text x="338.00" y="478.05" font-size="7.6" font-style="italic" fill="#1a1a1a">OsRCN1</text>
<text x="338.00" y="486.00" font-size="7.6" font-style="italic" fill="#1a1a1a">OsRCN3</text>
<text x="338.00" y="493.95" font-size="7.6" font-style="italic" fill="#1a1a1a">OsMFT2</text>
<text x="338.00" y="501.90" font-size="7.6" font-style="italic" fill="#1a1a1a">OsFTL13</text>
<text x="338.00" y="509.85" font-size="7.6" font-style="italic" fill="#1a1a1a">OsRCN4</text>
<text x="338.00" y="517.80" font-size="7.6" font-style="italic" fill="#1a1a1a">OsFTL14</text>
<text x="338.00" y="525.75" font-size="7.6" font-style="italic" fill="#1a1a1a">OsFTL2/Hd3a</text>
<linearGradient id="gd" x1="0" y1="0" x2="0" y2="1"><stop offset="0" stop-color="#d42a24"/><stop offset="0.14" stop-color="#e06448"/><stop offset="0.29" stop-color="#eba078"/><stop offset="0.43" stop-color="#efd49a"/><stop offset="0.52" stop-color="#ebe3a2"/><stop offset="0.6" stop-color="#c8caa2"/><stop offset="0.72" stop-color="#98a8aa"/><stop offset="0.86" stop-color="#6a86b4"/><stop offset="1" stop-color="#3a5cb4"/></linearGradient>
<rect x="405.2" y="425.2" width="4.0" height="49.6" fill="url(#gd)"/>
<text x="425.2" y="427.20" font-size="5.8" text-anchor="end" fill="#333">14.00</text>
<text x="425.2" y="434.29" font-size="5.8" text-anchor="end" fill="#333">12.00</text>
<text x="425.2" y="441.37" font-size="5.8" text-anchor="end" fill="#333">10.00</text>
<text x="425.2" y="448.46" font-size="5.8" text-anchor="end" fill="#333">8.00</text>
<text x="425.2" y="455.54" font-size="5.8" text-anchor="end" fill="#333">6.00</text>
<text x="425.2" y="462.63" font-size="5.8" text-anchor="end" fill="#333">4.00</text>
<text x="425.2" y="469.71" font-size="5.8" text-anchor="end" fill="#333">2.00</text>
<text x="425.2" y="476.80" font-size="5.8" text-anchor="end" fill="#333">0.00</text>
<text x="49.94" y="531.00" font-size="7.4" text-anchor="end" transform="rotate(-45 49.94 531.00)" fill="#1a1a1a">13</text>
<text x="67.42" y="531.00" font-size="7.4" text-anchor="end" transform="rotate(-45 67.42 531.00)" fill="#1a1a1a">20</text>
<text x="84.90" y="531.00" font-size="7.4" text-anchor="end" transform="rotate(-45 84.90 531.00)" fill="#1a1a1a">27</text>
<text x="102.38" y="531.00" font-size="7.4" text-anchor="end" transform="rotate(-45 102.38 531.00)" fill="#1a1a1a">34</text>
<text x="119.86" y="531.00" font-size="7.4" text-anchor="end" transform="rotate(-45 119.86 531.00)" fill="#1a1a1a">41</text>
<text x="137.34" y="531.00" font-size="7.4" text-anchor="end" transform="rotate(-45 137.34 531.00)" fill="#1a1a1a">48</text>
<text x="154.82" y="531.00" font-size="7.4" text-anchor="end" transform="rotate(-45 154.82 531.00)" fill="#1a1a1a">55</text>
<text x="172.30" y="531.00" font-size="7.4" text-anchor="end" transform="rotate(-45 172.30 531.00)" fill="#1a1a1a">62</text>
<text x="189.78" y="531.00" font-size="7.4" text-anchor="end" transform="rotate(-45 189.78 531.00)" fill="#1a1a1a">69</text>
<text x="207.26" y="531.00" font-size="7.4" text-anchor="end" transform="rotate(-45 207.26 531.00)" fill="#1a1a1a">76</text>
<text x="224.74" y="531.00" font-size="7.4" text-anchor="end" transform="rotate(-45 224.74 531.00)" fill="#1a1a1a">83</text>
<text x="242.22" y="531.00" font-size="7.4" text-anchor="end" transform="rotate(-45 242.22 531.00)" fill="#1a1a1a">90</text>
<text x="259.70" y="531.00" font-size="7.4" text-anchor="end" transform="rotate(-45 259.70 531.00)" fill="#1a1a1a">97</text>
<text x="277.18" y="531.00" font-size="7.4" text-anchor="end" transform="rotate(-45 277.18 531.00)" fill="#1a1a1a">104</text>
<text x="294.66" y="531.00" font-size="7.4" text-anchor="end" transform="rotate(-45 294.66 531.00)" fill="#1a1a1a">111</text>
<text x="312.14" y="531.00" font-size="7.4" text-anchor="end" transform="rotate(-45 312.14 531.00)" fill="#1a1a1a">118</text>
<text x="329.62" y="531.00" font-size="7.4" text-anchor="end" transform="rotate(-45 329.62 531.00)" fill="#1a1a1a">125</text>
<text x="185" y="546.5" font-size="7.3" text-anchor="middle" fill="#1a1a1a">Days after transplanting (day)</text>
</svg></body></html>
